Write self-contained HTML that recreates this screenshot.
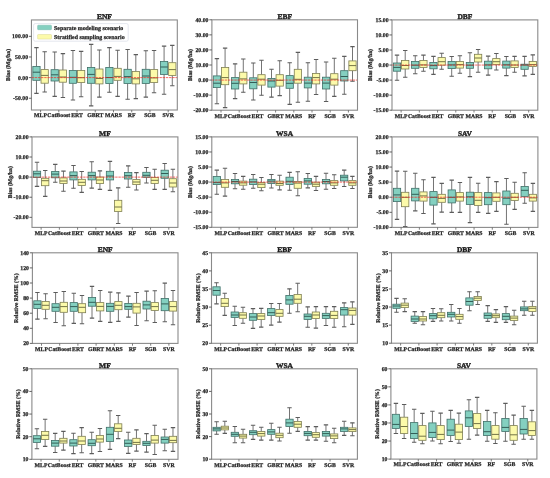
<!DOCTYPE html><html><head><meta charset="utf-8"><style>html,body{margin:0;padding:0;background:#fff;width:550px;height:478px;overflow:hidden}svg{display:block;filter:blur(0.3px)}text{text-rendering:geometricPrecision;font-family:"Liberation Serif","Times New Roman",serif;font-weight:bold;fill:#262626;stroke:#262626;stroke-width:0.25px}</style></head><body>
<svg width="550" height="478" viewBox="0 0 550 478">
<rect width="550" height="478" fill="#fff"/>
<path d="M36.46 47.60V66.40M36.46 80.30V93.40" stroke="#747474" stroke-width="1.0" fill="none"/><path d="M34.28 47.60H38.65M34.28 93.40H38.65" stroke="#5c5c5c" stroke-width="1.1" fill="none"/><rect x="32.82" y="66.40" width="7.29" height="13.90" fill="#84d0c0" stroke="#3f6f68" stroke-width="0.8"/><path d="M32.82 72.20H40.11" stroke="#335e57" stroke-width="1.0"/><path d="M44.67 51.70V69.60M44.67 83.20V92.00" stroke="#747474" stroke-width="1.0" fill="none"/><path d="M42.48 51.70H46.86M42.48 92.00H46.86" stroke="#5c5c5c" stroke-width="1.1" fill="none"/><rect x="41.02" y="69.60" width="7.29" height="13.60" fill="#fcfaaa" stroke="#7e7e52" stroke-width="0.8"/><path d="M41.02 75.40H48.31" stroke="#737346" stroke-width="1.0"/><path d="M54.69 52.00V69.70M54.69 81.00V96.40" stroke="#747474" stroke-width="1.0" fill="none"/><path d="M52.51 52.00H56.88M52.51 96.40H56.88" stroke="#5c5c5c" stroke-width="1.1" fill="none"/><rect x="51.05" y="69.70" width="7.29" height="11.30" fill="#84d0c0" stroke="#3f6f68" stroke-width="0.8"/><path d="M51.05 74.80H58.34" stroke="#335e57" stroke-width="1.0"/><path d="M62.90 53.60V70.00M62.90 82.20V97.50" stroke="#747474" stroke-width="1.0" fill="none"/><path d="M60.71 53.60H65.09M60.71 97.50H65.09" stroke="#5c5c5c" stroke-width="1.1" fill="none"/><rect x="59.25" y="70.00" width="7.29" height="12.20" fill="#fcfaaa" stroke="#7e7e52" stroke-width="0.8"/><path d="M59.25 77.00H66.55" stroke="#737346" stroke-width="1.0"/><path d="M72.93 50.50V70.50M72.93 83.30V100.00" stroke="#747474" stroke-width="1.0" fill="none"/><path d="M70.74 50.50H75.11M70.74 100.00H75.11" stroke="#5c5c5c" stroke-width="1.1" fill="none"/><rect x="69.28" y="70.50" width="7.29" height="12.80" fill="#84d0c0" stroke="#3f6f68" stroke-width="0.8"/><path d="M69.28 77.30H76.57" stroke="#335e57" stroke-width="1.0"/><path d="M81.13 51.40V70.50M81.13 82.50V96.80" stroke="#747474" stroke-width="1.0" fill="none"/><path d="M78.94 51.40H83.32M78.94 96.80H83.32" stroke="#5c5c5c" stroke-width="1.1" fill="none"/><rect x="77.48" y="70.50" width="7.29" height="12.00" fill="#fcfaaa" stroke="#7e7e52" stroke-width="0.8"/><path d="M77.48 77.70H84.78" stroke="#737346" stroke-width="1.0"/><path d="M91.16 44.40V67.40M91.16 83.30V105.90" stroke="#747474" stroke-width="1.0" fill="none"/><path d="M88.97 44.40H93.35M88.97 105.90H93.35" stroke="#5c5c5c" stroke-width="1.1" fill="none"/><rect x="87.51" y="67.40" width="7.29" height="15.90" fill="#84d0c0" stroke="#3f6f68" stroke-width="0.8"/><path d="M87.51 74.40H94.80" stroke="#335e57" stroke-width="1.0"/><path d="M99.36 50.00V69.00M99.36 83.90V97.10" stroke="#747474" stroke-width="1.0" fill="none"/><path d="M97.17 50.00H101.55M97.17 97.10H101.55" stroke="#5c5c5c" stroke-width="1.1" fill="none"/><rect x="95.72" y="69.00" width="7.29" height="14.90" fill="#fcfaaa" stroke="#7e7e52" stroke-width="0.8"/><path d="M95.72 78.50H103.01" stroke="#737346" stroke-width="1.0"/><path d="M109.39 47.60V67.40M109.39 83.50V92.30" stroke="#747474" stroke-width="1.0" fill="none"/><path d="M107.20 47.60H111.58M107.20 92.30H111.58" stroke="#5c5c5c" stroke-width="1.1" fill="none"/><rect x="105.74" y="67.40" width="7.29" height="16.10" fill="#84d0c0" stroke="#3f6f68" stroke-width="0.8"/><path d="M105.74 77.50H113.03" stroke="#335e57" stroke-width="1.0"/><path d="M117.59 50.20V68.30M117.59 80.30V96.40" stroke="#747474" stroke-width="1.0" fill="none"/><path d="M115.40 50.20H119.78M115.40 96.40H119.78" stroke="#5c5c5c" stroke-width="1.1" fill="none"/><rect x="113.95" y="68.30" width="7.29" height="12.00" fill="#fcfaaa" stroke="#7e7e52" stroke-width="0.8"/><path d="M113.95 76.40H121.24" stroke="#737346" stroke-width="1.0"/><path d="M127.62 49.50V69.30M127.62 83.50V99.30" stroke="#747474" stroke-width="1.0" fill="none"/><path d="M125.43 49.50H129.81M125.43 99.30H129.81" stroke="#5c5c5c" stroke-width="1.1" fill="none"/><rect x="123.97" y="69.30" width="7.29" height="14.20" fill="#84d0c0" stroke="#3f6f68" stroke-width="0.8"/><path d="M123.97 76.60H131.27" stroke="#335e57" stroke-width="1.0"/><path d="M135.82 54.60V71.50M135.82 83.90V98.60" stroke="#747474" stroke-width="1.0" fill="none"/><path d="M133.64 54.60H138.01M133.64 98.60H138.01" stroke="#5c5c5c" stroke-width="1.1" fill="none"/><rect x="132.18" y="71.50" width="7.29" height="12.40" fill="#fcfaaa" stroke="#7e7e52" stroke-width="0.8"/><path d="M132.18 78.80H139.47" stroke="#737346" stroke-width="1.0"/><path d="M145.85 50.70V69.30M145.85 83.50V97.10" stroke="#747474" stroke-width="1.0" fill="none"/><path d="M143.66 50.70H148.04M143.66 97.10H148.04" stroke="#5c5c5c" stroke-width="1.1" fill="none"/><rect x="142.20" y="69.30" width="7.29" height="14.20" fill="#84d0c0" stroke="#3f6f68" stroke-width="0.8"/><path d="M142.20 76.00H149.50" stroke="#335e57" stroke-width="1.0"/><path d="M154.06 50.50V69.60M154.06 82.50V92.70" stroke="#747474" stroke-width="1.0" fill="none"/><path d="M151.87 50.50H156.24M151.87 92.70H156.24" stroke="#5c5c5c" stroke-width="1.1" fill="none"/><rect x="150.41" y="69.60" width="7.29" height="12.90" fill="#fcfaaa" stroke="#7e7e52" stroke-width="0.8"/><path d="M150.41 77.90H157.70" stroke="#737346" stroke-width="1.0"/><path d="M164.08 46.10V61.50M164.08 74.40V94.20" stroke="#747474" stroke-width="1.0" fill="none"/><path d="M161.89 46.10H166.27M161.89 94.20H166.27" stroke="#5c5c5c" stroke-width="1.1" fill="none"/><rect x="160.44" y="61.50" width="7.29" height="12.90" fill="#84d0c0" stroke="#3f6f68" stroke-width="0.8"/><path d="M160.44 67.00H167.73" stroke="#335e57" stroke-width="1.0"/><path d="M172.29 45.40V62.70M172.29 75.40V85.70" stroke="#747474" stroke-width="1.0" fill="none"/><path d="M170.10 45.40H174.47M170.10 85.70H174.47" stroke="#5c5c5c" stroke-width="1.1" fill="none"/><rect x="168.64" y="62.70" width="7.29" height="12.70" fill="#fcfaaa" stroke="#7e7e52" stroke-width="0.8"/><path d="M168.64 69.60H175.93" stroke="#737346" stroke-width="1.0"/>
<path d="M31.45 77.60H177.30" stroke="#f22a22" stroke-width="0.7" stroke-dasharray="2.4 0.8"/>
<rect x="31.45" y="19.95" width="145.85" height="90.05" fill="none" stroke="#8a8a8a" stroke-width="1.1"/>
<path d="M28.85 36.33H31.45" stroke="#555" stroke-width="0.9"/>
<text x="28.05" y="38.28" font-size="5.8" text-anchor="end">100.00</text>
<path d="M28.85 56.97H31.45" stroke="#555" stroke-width="0.9"/>
<text x="28.05" y="58.92" font-size="5.8" text-anchor="end">50.00</text>
<path d="M28.85 77.60H31.45" stroke="#555" stroke-width="0.9"/>
<text x="28.05" y="79.55" font-size="5.8" text-anchor="end">0.00</text>
<path d="M28.85 98.24H31.45" stroke="#555" stroke-width="0.9"/>
<text x="28.05" y="100.19" font-size="5.8" text-anchor="end">-50.00</text>
<path d="M40.57 110.0V112.30" stroke="#666" stroke-width="0.85"/>
<text x="40.57" y="117.30" font-size="5.8" text-anchor="middle">MLP</text>
<path d="M58.80 110.0V112.30" stroke="#666" stroke-width="0.85"/>
<text x="58.80" y="117.30" font-size="5.8" text-anchor="middle">CatBoost</text>
<path d="M77.03 110.0V112.30" stroke="#666" stroke-width="0.85"/>
<text x="77.03" y="117.30" font-size="5.8" text-anchor="middle">ERT</text>
<path d="M95.26 110.0V112.30" stroke="#666" stroke-width="0.85"/>
<text x="95.26" y="117.30" font-size="5.8" text-anchor="middle">GBRT</text>
<path d="M113.49 110.0V112.30" stroke="#666" stroke-width="0.85"/>
<text x="113.49" y="117.30" font-size="5.8" text-anchor="middle">MARS</text>
<path d="M131.72 110.0V112.30" stroke="#666" stroke-width="0.85"/>
<text x="131.72" y="117.30" font-size="5.8" text-anchor="middle">RF</text>
<path d="M149.95 110.0V112.30" stroke="#666" stroke-width="0.85"/>
<text x="149.95" y="117.30" font-size="5.8" text-anchor="middle">SGB</text>
<path d="M168.18 110.0V112.30" stroke="#666" stroke-width="0.85"/>
<text x="168.18" y="117.30" font-size="5.8" text-anchor="middle">SVR</text>
<text transform="translate(104.38 18.85) scale(1 0.96)" font-size="7.5" style="stroke-width:0.38px;fill:#1c1c1c;stroke:#1c1c1c" text-anchor="middle">ENF</text>
<text transform="translate(10.30 64.97) rotate(-90)" font-size="5.8" text-anchor="middle">Bias (Mg/ha)</text>
<path d="M216.91 58.60V75.90M216.91 87.60V103.70" stroke="#747474" stroke-width="1.0" fill="none"/><path d="M214.72 58.60H219.09M214.72 103.70H219.09" stroke="#5c5c5c" stroke-width="1.1" fill="none"/><rect x="213.27" y="75.90" width="7.28" height="11.70" fill="#84d0c0" stroke="#3f6f68" stroke-width="0.8"/><path d="M213.27 83.20H220.54" stroke="#335e57" stroke-width="1.0"/><path d="M225.09 48.10V67.40M225.09 84.70V107.60" stroke="#747474" stroke-width="1.0" fill="none"/><path d="M222.91 48.10H227.28M222.91 107.60H227.28" stroke="#5c5c5c" stroke-width="1.1" fill="none"/><rect x="221.46" y="67.40" width="7.28" height="17.30" fill="#fcfaaa" stroke="#7e7e52" stroke-width="0.8"/><path d="M221.46 77.60H228.73" stroke="#737346" stroke-width="1.0"/><path d="M235.10 63.90V77.60M235.10 89.00V98.60" stroke="#747474" stroke-width="1.0" fill="none"/><path d="M232.92 63.90H237.29M232.92 98.60H237.29" stroke="#5c5c5c" stroke-width="1.1" fill="none"/><rect x="231.47" y="77.60" width="7.28" height="11.40" fill="#84d0c0" stroke="#3f6f68" stroke-width="0.8"/><path d="M231.47 83.30H238.74" stroke="#335e57" stroke-width="1.0"/><path d="M243.29 59.00V72.20M243.29 83.90V92.30" stroke="#747474" stroke-width="1.0" fill="none"/><path d="M241.11 59.00H245.48M241.11 92.30H245.48" stroke="#5c5c5c" stroke-width="1.1" fill="none"/><rect x="239.66" y="72.20" width="7.28" height="11.70" fill="#fcfaaa" stroke="#7e7e52" stroke-width="0.8"/><path d="M239.66 78.90H246.93" stroke="#737346" stroke-width="1.0"/><path d="M253.30 63.00V77.80M253.30 88.80V100.00" stroke="#747474" stroke-width="1.0" fill="none"/><path d="M251.12 63.00H255.49M251.12 100.00H255.49" stroke="#5c5c5c" stroke-width="1.1" fill="none"/><rect x="249.66" y="77.80" width="7.28" height="11.00" fill="#84d0c0" stroke="#3f6f68" stroke-width="0.8"/><path d="M249.66 82.50H256.94" stroke="#335e57" stroke-width="1.0"/><path d="M261.50 60.20V74.70M261.50 85.10V95.30" stroke="#747474" stroke-width="1.0" fill="none"/><path d="M259.31 60.20H263.68M259.31 95.30H263.68" stroke="#5c5c5c" stroke-width="1.1" fill="none"/><rect x="257.86" y="74.70" width="7.28" height="10.40" fill="#fcfaaa" stroke="#7e7e52" stroke-width="0.8"/><path d="M257.86 79.20H265.13" stroke="#737346" stroke-width="1.0"/><path d="M271.50 69.30V78.40M271.50 87.10V97.10" stroke="#747474" stroke-width="1.0" fill="none"/><path d="M269.32 69.30H273.69M269.32 97.10H273.69" stroke="#5c5c5c" stroke-width="1.1" fill="none"/><rect x="267.87" y="78.40" width="7.28" height="8.70" fill="#84d0c0" stroke="#3f6f68" stroke-width="0.8"/><path d="M267.87 81.00H275.14" stroke="#335e57" stroke-width="1.0"/><path d="M279.70 60.80V74.70M279.70 86.10V95.60" stroke="#747474" stroke-width="1.0" fill="none"/><path d="M277.51 60.80H281.88M277.51 95.60H281.88" stroke="#5c5c5c" stroke-width="1.1" fill="none"/><rect x="276.06" y="74.70" width="7.28" height="11.40" fill="#fcfaaa" stroke="#7e7e52" stroke-width="0.8"/><path d="M276.06 80.30H283.34" stroke="#737346" stroke-width="1.0"/><path d="M289.70 62.70V75.60M289.70 88.30V104.40" stroke="#747474" stroke-width="1.0" fill="none"/><path d="M287.52 62.70H291.89M287.52 104.40H291.89" stroke="#5c5c5c" stroke-width="1.1" fill="none"/><rect x="286.06" y="75.60" width="7.28" height="12.70" fill="#84d0c0" stroke="#3f6f68" stroke-width="0.8"/><path d="M286.06 83.30H293.34" stroke="#335e57" stroke-width="1.0"/><path d="M297.90 52.40V69.30M297.90 83.20V102.20" stroke="#747474" stroke-width="1.0" fill="none"/><path d="M295.71 52.40H300.08M295.71 102.20H300.08" stroke="#5c5c5c" stroke-width="1.1" fill="none"/><rect x="294.26" y="69.30" width="7.28" height="13.90" fill="#fcfaaa" stroke="#7e7e52" stroke-width="0.8"/><path d="M294.26 79.30H301.54" stroke="#737346" stroke-width="1.0"/><path d="M307.90 62.70V77.20M307.90 87.90V101.20" stroke="#747474" stroke-width="1.0" fill="none"/><path d="M305.72 62.70H310.09M305.72 101.20H310.09" stroke="#5c5c5c" stroke-width="1.1" fill="none"/><rect x="304.26" y="77.20" width="7.28" height="10.70" fill="#84d0c0" stroke="#3f6f68" stroke-width="0.8"/><path d="M304.26 83.10H311.54" stroke="#335e57" stroke-width="1.0"/><path d="M316.10 59.50V73.40M316.10 83.90V94.50" stroke="#747474" stroke-width="1.0" fill="none"/><path d="M313.91 59.50H318.28M313.91 94.50H318.28" stroke="#5c5c5c" stroke-width="1.1" fill="none"/><rect x="312.46" y="73.40" width="7.28" height="10.50" fill="#fcfaaa" stroke="#7e7e52" stroke-width="0.8"/><path d="M312.46 77.60H319.74" stroke="#737346" stroke-width="1.0"/><path d="M326.10 62.00V77.20M326.10 89.00V101.50" stroke="#747474" stroke-width="1.0" fill="none"/><path d="M323.92 62.00H328.29M323.92 101.50H328.29" stroke="#5c5c5c" stroke-width="1.1" fill="none"/><rect x="322.46" y="77.20" width="7.28" height="11.80" fill="#84d0c0" stroke="#3f6f68" stroke-width="0.8"/><path d="M322.46 83.10H329.74" stroke="#335e57" stroke-width="1.0"/><path d="M334.30 58.30V73.70M334.30 85.10V96.40" stroke="#747474" stroke-width="1.0" fill="none"/><path d="M332.11 58.30H336.48M332.11 96.40H336.48" stroke="#5c5c5c" stroke-width="1.1" fill="none"/><rect x="330.66" y="73.70" width="7.28" height="11.40" fill="#fcfaaa" stroke="#7e7e52" stroke-width="0.8"/><path d="M330.66 79.20H337.94" stroke="#737346" stroke-width="1.0"/><path d="M344.30 56.40V70.70M344.30 81.00V94.20" stroke="#747474" stroke-width="1.0" fill="none"/><path d="M342.12 56.40H346.49M342.12 94.20H346.49" stroke="#5c5c5c" stroke-width="1.1" fill="none"/><rect x="340.66" y="70.70" width="7.28" height="10.30" fill="#84d0c0" stroke="#3f6f68" stroke-width="0.8"/><path d="M340.66 76.50H347.94" stroke="#335e57" stroke-width="1.0"/><path d="M352.50 46.60V60.90M352.50 70.70V81.30" stroke="#747474" stroke-width="1.0" fill="none"/><path d="M350.31 46.60H354.68M350.31 81.30H354.68" stroke="#5c5c5c" stroke-width="1.1" fill="none"/><rect x="348.86" y="60.90" width="7.28" height="9.80" fill="#fcfaaa" stroke="#7e7e52" stroke-width="0.8"/><path d="M348.86 65.60H356.13" stroke="#737346" stroke-width="1.0"/>
<path d="M211.90 80.07H357.50" stroke="#f22a22" stroke-width="0.7" stroke-dasharray="2.4 0.8"/>
<rect x="211.9" y="19.8" width="145.60" height="90.40" fill="none" stroke="#8a8a8a" stroke-width="1.1"/>
<path d="M209.30 19.80H211.9" stroke="#555" stroke-width="0.9"/>
<text x="208.50" y="21.75" font-size="5.8" text-anchor="end">40.00</text>
<path d="M209.30 34.87H211.9" stroke="#555" stroke-width="0.9"/>
<text x="208.50" y="36.82" font-size="5.8" text-anchor="end">30.00</text>
<path d="M209.30 49.93H211.9" stroke="#555" stroke-width="0.9"/>
<text x="208.50" y="51.88" font-size="5.8" text-anchor="end">20.00</text>
<path d="M209.30 65.00H211.9" stroke="#555" stroke-width="0.9"/>
<text x="208.50" y="66.95" font-size="5.8" text-anchor="end">10.00</text>
<path d="M209.30 80.07H211.9" stroke="#555" stroke-width="0.9"/>
<text x="208.50" y="82.02" font-size="5.8" text-anchor="end">0.00</text>
<path d="M209.30 95.13H211.9" stroke="#555" stroke-width="0.9"/>
<text x="208.50" y="97.08" font-size="5.8" text-anchor="end">-10.00</text>
<path d="M209.30 110.20H211.9" stroke="#555" stroke-width="0.9"/>
<text x="208.50" y="112.15" font-size="5.8" text-anchor="end">-20.00</text>
<path d="M221.00 110.2V112.50" stroke="#666" stroke-width="0.85"/>
<text x="221.00" y="117.50" font-size="5.8" text-anchor="middle">MLP</text>
<path d="M239.20 110.2V112.50" stroke="#666" stroke-width="0.85"/>
<text x="239.20" y="117.50" font-size="5.8" text-anchor="middle">CatBoost</text>
<path d="M257.40 110.2V112.50" stroke="#666" stroke-width="0.85"/>
<text x="257.40" y="117.50" font-size="5.8" text-anchor="middle">ERT</text>
<path d="M275.60 110.2V112.50" stroke="#666" stroke-width="0.85"/>
<text x="275.60" y="117.50" font-size="5.8" text-anchor="middle">GBRT</text>
<path d="M293.80 110.2V112.50" stroke="#666" stroke-width="0.85"/>
<text x="293.80" y="117.50" font-size="5.8" text-anchor="middle">MARS</text>
<path d="M312.00 110.2V112.50" stroke="#666" stroke-width="0.85"/>
<text x="312.00" y="117.50" font-size="5.8" text-anchor="middle">RF</text>
<path d="M330.20 110.2V112.50" stroke="#666" stroke-width="0.85"/>
<text x="330.20" y="117.50" font-size="5.8" text-anchor="middle">SGB</text>
<path d="M348.40 110.2V112.50" stroke="#666" stroke-width="0.85"/>
<text x="348.40" y="117.50" font-size="5.8" text-anchor="middle">SVR</text>
<text transform="translate(284.70 18.70) scale(1 0.96)" font-size="7.5" style="stroke-width:0.38px;fill:#1c1c1c;stroke:#1c1c1c" text-anchor="middle">EBF</text>
<text transform="translate(191.72 65.00) rotate(-90)" font-size="5.8" text-anchor="middle">Bias (Mg/ha)</text>
<path d="M397.01 55.10V63.00M397.01 71.20V80.30" stroke="#747474" stroke-width="1.0" fill="none"/><path d="M394.82 55.10H399.20M394.82 80.30H399.20" stroke="#5c5c5c" stroke-width="1.1" fill="none"/><rect x="393.37" y="63.00" width="7.29" height="8.20" fill="#84d0c0" stroke="#3f6f68" stroke-width="0.8"/><path d="M393.37 67.40H400.66" stroke="#335e57" stroke-width="1.0"/><path d="M405.21 50.50V60.50M405.21 69.00V77.30" stroke="#747474" stroke-width="1.0" fill="none"/><path d="M403.03 50.50H407.40M403.03 77.30H407.40" stroke="#5c5c5c" stroke-width="1.1" fill="none"/><rect x="401.57" y="60.50" width="7.29" height="8.50" fill="#fcfaaa" stroke="#7e7e52" stroke-width="0.8"/><path d="M401.57 65.50H408.86" stroke="#737346" stroke-width="1.0"/><path d="M415.24 55.70V61.50M415.24 68.30V73.70" stroke="#747474" stroke-width="1.0" fill="none"/><path d="M413.05 55.70H417.42M413.05 73.70H417.42" stroke="#5c5c5c" stroke-width="1.1" fill="none"/><rect x="411.59" y="61.50" width="7.29" height="6.80" fill="#84d0c0" stroke="#3f6f68" stroke-width="0.8"/><path d="M411.59 65.20H418.88" stroke="#335e57" stroke-width="1.0"/><path d="M423.44 55.10V60.50M423.44 67.40V71.20" stroke="#747474" stroke-width="1.0" fill="none"/><path d="M421.25 55.10H425.63M421.25 71.20H425.63" stroke="#5c5c5c" stroke-width="1.1" fill="none"/><rect x="419.79" y="60.50" width="7.29" height="6.90" fill="#fcfaaa" stroke="#7e7e52" stroke-width="0.8"/><path d="M419.79 64.90H427.08" stroke="#737346" stroke-width="1.0"/><path d="M433.46 56.40V62.40M433.46 68.80V74.40" stroke="#747474" stroke-width="1.0" fill="none"/><path d="M431.27 56.40H435.65M431.27 74.40H435.65" stroke="#5c5c5c" stroke-width="1.1" fill="none"/><rect x="429.82" y="62.40" width="7.29" height="6.40" fill="#84d0c0" stroke="#3f6f68" stroke-width="0.8"/><path d="M429.82 65.60H437.11" stroke="#335e57" stroke-width="1.0"/><path d="M441.66 53.20V57.60M441.66 65.20V69.30" stroke="#747474" stroke-width="1.0" fill="none"/><path d="M439.48 53.20H443.85M439.48 69.30H443.85" stroke="#5c5c5c" stroke-width="1.1" fill="none"/><rect x="438.02" y="57.60" width="7.29" height="7.60" fill="#fcfaaa" stroke="#7e7e52" stroke-width="0.8"/><path d="M438.02 61.70H445.31" stroke="#737346" stroke-width="1.0"/><path d="M451.69 56.50V61.50M451.69 68.60V76.30" stroke="#747474" stroke-width="1.0" fill="none"/><path d="M449.50 56.50H453.87M449.50 76.30H453.87" stroke="#5c5c5c" stroke-width="1.1" fill="none"/><rect x="448.04" y="61.50" width="7.29" height="7.10" fill="#84d0c0" stroke="#3f6f68" stroke-width="0.8"/><path d="M448.04 64.90H455.33" stroke="#335e57" stroke-width="1.0"/><path d="M459.89 55.70V61.50M459.89 68.10V73.20" stroke="#747474" stroke-width="1.0" fill="none"/><path d="M457.70 55.70H462.08M457.70 73.20H462.08" stroke="#5c5c5c" stroke-width="1.1" fill="none"/><rect x="456.24" y="61.50" width="7.29" height="6.60" fill="#fcfaaa" stroke="#7e7e52" stroke-width="0.8"/><path d="M456.24 64.60H463.53" stroke="#737346" stroke-width="1.0"/><path d="M469.91 52.70V62.40M469.91 68.30V76.60" stroke="#747474" stroke-width="1.0" fill="none"/><path d="M467.72 52.70H472.10M467.72 76.60H472.10" stroke="#5c5c5c" stroke-width="1.1" fill="none"/><rect x="466.27" y="62.40" width="7.29" height="5.90" fill="#84d0c0" stroke="#3f6f68" stroke-width="0.8"/><path d="M466.27 65.20H473.56" stroke="#335e57" stroke-width="1.0"/><path d="M478.11 49.50V54.30M478.11 62.00V72.20" stroke="#747474" stroke-width="1.0" fill="none"/><path d="M475.93 49.50H480.30M475.93 72.20H480.30" stroke="#5c5c5c" stroke-width="1.1" fill="none"/><rect x="474.47" y="54.30" width="7.29" height="7.70" fill="#fcfaaa" stroke="#7e7e52" stroke-width="0.8"/><path d="M474.47 58.00H481.76" stroke="#737346" stroke-width="1.0"/><path d="M488.14 56.10V61.20M488.14 68.80V75.10" stroke="#747474" stroke-width="1.0" fill="none"/><path d="M485.95 56.10H490.32M485.95 75.10H490.32" stroke="#5c5c5c" stroke-width="1.1" fill="none"/><rect x="484.49" y="61.20" width="7.29" height="7.60" fill="#84d0c0" stroke="#3f6f68" stroke-width="0.8"/><path d="M484.49 64.90H491.78" stroke="#335e57" stroke-width="1.0"/><path d="M496.34 53.50V58.60M496.34 64.60V70.00" stroke="#747474" stroke-width="1.0" fill="none"/><path d="M494.15 53.50H498.53M494.15 70.00H498.53" stroke="#5c5c5c" stroke-width="1.1" fill="none"/><rect x="492.69" y="58.60" width="7.29" height="6.00" fill="#fcfaaa" stroke="#7e7e52" stroke-width="0.8"/><path d="M492.69 61.70H499.98" stroke="#737346" stroke-width="1.0"/><path d="M506.36 56.50V61.10M506.36 68.10V75.60" stroke="#747474" stroke-width="1.0" fill="none"/><path d="M504.17 56.50H508.55M504.17 75.60H508.55" stroke="#5c5c5c" stroke-width="1.1" fill="none"/><rect x="502.72" y="61.10" width="7.29" height="7.00" fill="#84d0c0" stroke="#3f6f68" stroke-width="0.8"/><path d="M502.72 64.80H510.01" stroke="#335e57" stroke-width="1.0"/><path d="M514.56 56.40V60.90M514.56 67.40V72.20" stroke="#747474" stroke-width="1.0" fill="none"/><path d="M512.38 56.40H516.75M512.38 72.20H516.75" stroke="#5c5c5c" stroke-width="1.1" fill="none"/><rect x="510.92" y="60.90" width="7.29" height="6.50" fill="#fcfaaa" stroke="#7e7e52" stroke-width="0.8"/><path d="M510.92 65.00H518.21" stroke="#737346" stroke-width="1.0"/><path d="M524.59 56.40V64.20M524.59 69.30V75.90" stroke="#747474" stroke-width="1.0" fill="none"/><path d="M522.40 56.40H526.77M522.40 75.90H526.77" stroke="#5c5c5c" stroke-width="1.1" fill="none"/><rect x="520.94" y="64.20" width="7.29" height="5.10" fill="#84d0c0" stroke="#3f6f68" stroke-width="0.8"/><path d="M520.94 65.00H528.23" stroke="#335e57" stroke-width="1.0"/><path d="M532.79 54.90V61.50M532.79 66.40V74.40" stroke="#747474" stroke-width="1.0" fill="none"/><path d="M530.60 54.90H534.98M530.60 74.40H534.98" stroke="#5c5c5c" stroke-width="1.1" fill="none"/><rect x="529.14" y="61.50" width="7.29" height="4.90" fill="#fcfaaa" stroke="#7e7e52" stroke-width="0.8"/><path d="M529.14 64.60H536.43" stroke="#737346" stroke-width="1.0"/>
<path d="M392.00 65.05H537.80" stroke="#f22a22" stroke-width="0.7" stroke-dasharray="2.4 0.8"/>
<rect x="392.0" y="19.9" width="145.80" height="90.30" fill="none" stroke="#8a8a8a" stroke-width="1.1"/>
<path d="M389.40 19.90H392.0" stroke="#555" stroke-width="0.9"/>
<text x="388.60" y="21.85" font-size="5.8" text-anchor="end">15.00</text>
<path d="M389.40 34.95H392.0" stroke="#555" stroke-width="0.9"/>
<text x="388.60" y="36.90" font-size="5.8" text-anchor="end">10.00</text>
<path d="M389.40 50.00H392.0" stroke="#555" stroke-width="0.9"/>
<text x="388.60" y="51.95" font-size="5.8" text-anchor="end">5.00</text>
<path d="M389.40 65.05H392.0" stroke="#555" stroke-width="0.9"/>
<text x="388.60" y="67.00" font-size="5.8" text-anchor="end">0.00</text>
<path d="M389.40 80.10H392.0" stroke="#555" stroke-width="0.9"/>
<text x="388.60" y="82.05" font-size="5.8" text-anchor="end">-5.00</text>
<path d="M389.40 95.15H392.0" stroke="#555" stroke-width="0.9"/>
<text x="388.60" y="97.10" font-size="5.8" text-anchor="end">-10.00</text>
<path d="M389.40 110.20H392.0" stroke="#555" stroke-width="0.9"/>
<text x="388.60" y="112.15" font-size="5.8" text-anchor="end">-15.00</text>
<path d="M401.11 110.2V112.50" stroke="#666" stroke-width="0.85"/>
<text x="401.11" y="117.50" font-size="5.8" text-anchor="middle">MLP</text>
<path d="M419.34 110.2V112.50" stroke="#666" stroke-width="0.85"/>
<text x="419.34" y="117.50" font-size="5.8" text-anchor="middle">CatBoost</text>
<path d="M437.56 110.2V112.50" stroke="#666" stroke-width="0.85"/>
<text x="437.56" y="117.50" font-size="5.8" text-anchor="middle">ERT</text>
<path d="M455.79 110.2V112.50" stroke="#666" stroke-width="0.85"/>
<text x="455.79" y="117.50" font-size="5.8" text-anchor="middle">GBRT</text>
<path d="M474.01 110.2V112.50" stroke="#666" stroke-width="0.85"/>
<text x="474.01" y="117.50" font-size="5.8" text-anchor="middle">MARS</text>
<path d="M492.24 110.2V112.50" stroke="#666" stroke-width="0.85"/>
<text x="492.24" y="117.50" font-size="5.8" text-anchor="middle">RF</text>
<path d="M510.46 110.2V112.50" stroke="#666" stroke-width="0.85"/>
<text x="510.46" y="117.50" font-size="5.8" text-anchor="middle">SGB</text>
<path d="M528.69 110.2V112.50" stroke="#666" stroke-width="0.85"/>
<text x="528.69" y="117.50" font-size="5.8" text-anchor="middle">SVR</text>
<text transform="translate(464.90 18.80) scale(1 0.96)" font-size="7.5" style="stroke-width:0.38px;fill:#1c1c1c;stroke:#1c1c1c" text-anchor="middle">DBF</text>
<text transform="translate(371.82 65.05) rotate(-90)" font-size="5.8" text-anchor="middle">Bias (Mg/ha)</text>
<path d="M37.02 162.30V171.20M37.02 177.60V186.40" stroke="#747474" stroke-width="1.0" fill="none"/><path d="M34.83 162.30H39.20M34.83 186.40H39.20" stroke="#5c5c5c" stroke-width="1.1" fill="none"/><rect x="33.37" y="171.20" width="7.30" height="6.40" fill="#84d0c0" stroke="#3f6f68" stroke-width="0.8"/><path d="M33.37 173.80H40.66" stroke="#335e57" stroke-width="1.0"/><path d="M45.22 170.50V178.30M45.22 185.70V196.40" stroke="#747474" stroke-width="1.0" fill="none"/><path d="M43.03 170.50H47.41M43.03 196.40H47.41" stroke="#5c5c5c" stroke-width="1.1" fill="none"/><rect x="41.57" y="178.30" width="7.30" height="7.40" fill="#fcfaaa" stroke="#7e7e52" stroke-width="0.8"/><path d="M41.57 180.70H48.87" stroke="#737346" stroke-width="1.0"/><path d="M55.25 164.40V171.50M55.25 177.80V182.30" stroke="#747474" stroke-width="1.0" fill="none"/><path d="M53.06 164.40H57.44M53.06 182.30H57.44" stroke="#5c5c5c" stroke-width="1.1" fill="none"/><rect x="51.61" y="171.50" width="7.30" height="6.30" fill="#84d0c0" stroke="#3f6f68" stroke-width="0.8"/><path d="M51.61 174.10H58.90" stroke="#335e57" stroke-width="1.0"/><path d="M63.46 171.10V177.90M63.46 183.40V191.30" stroke="#747474" stroke-width="1.0" fill="none"/><path d="M61.27 171.10H65.65M61.27 191.30H65.65" stroke="#5c5c5c" stroke-width="1.1" fill="none"/><rect x="59.81" y="177.90" width="7.30" height="5.50" fill="#fcfaaa" stroke="#7e7e52" stroke-width="0.8"/><path d="M59.81 181.00H67.11" stroke="#737346" stroke-width="1.0"/><path d="M73.49 165.50V171.90M73.49 179.90V188.30" stroke="#747474" stroke-width="1.0" fill="none"/><path d="M71.30 165.50H75.68M71.30 188.30H75.68" stroke="#5c5c5c" stroke-width="1.1" fill="none"/><rect x="69.84" y="171.90" width="7.30" height="8.00" fill="#84d0c0" stroke="#3f6f68" stroke-width="0.8"/><path d="M69.84 175.60H77.14" stroke="#335e57" stroke-width="1.0"/><path d="M81.70 171.50V179.30M81.70 185.40V192.40" stroke="#747474" stroke-width="1.0" fill="none"/><path d="M79.51 171.50H83.89M79.51 192.40H83.89" stroke="#5c5c5c" stroke-width="1.1" fill="none"/><rect x="78.05" y="179.30" width="7.30" height="6.10" fill="#fcfaaa" stroke="#7e7e52" stroke-width="0.8"/><path d="M78.05 182.30H85.34" stroke="#737346" stroke-width="1.0"/><path d="M91.73 161.80V172.20M91.73 179.90V188.10" stroke="#747474" stroke-width="1.0" fill="none"/><path d="M89.54 161.80H93.92M89.54 188.10H93.92" stroke="#5c5c5c" stroke-width="1.1" fill="none"/><rect x="88.08" y="172.20" width="7.30" height="7.70" fill="#84d0c0" stroke="#3f6f68" stroke-width="0.8"/><path d="M88.08 175.60H95.38" stroke="#335e57" stroke-width="1.0"/><path d="M99.93 170.90V177.00M99.93 183.60V189.40" stroke="#747474" stroke-width="1.0" fill="none"/><path d="M97.75 170.90H102.12M97.75 189.40H102.12" stroke="#5c5c5c" stroke-width="1.1" fill="none"/><rect x="96.29" y="177.00" width="7.30" height="6.60" fill="#fcfaaa" stroke="#7e7e52" stroke-width="0.8"/><path d="M96.29 180.00H103.58" stroke="#737346" stroke-width="1.0"/><path d="M109.97 161.40V171.30M109.97 179.90V190.40" stroke="#747474" stroke-width="1.0" fill="none"/><path d="M107.78 161.40H112.15M107.78 190.40H112.15" stroke="#5c5c5c" stroke-width="1.1" fill="none"/><rect x="106.32" y="171.30" width="7.30" height="8.60" fill="#84d0c0" stroke="#3f6f68" stroke-width="0.8"/><path d="M106.32 176.00H113.61" stroke="#335e57" stroke-width="1.0"/><path d="M118.17 187.90V200.30M118.17 211.50V223.50" stroke="#747474" stroke-width="1.0" fill="none"/><path d="M115.98 187.90H120.36M115.98 223.50H120.36" stroke="#5c5c5c" stroke-width="1.1" fill="none"/><rect x="114.52" y="200.30" width="7.30" height="11.20" fill="#fcfaaa" stroke="#7e7e52" stroke-width="0.8"/><path d="M114.52 207.00H121.82" stroke="#737346" stroke-width="1.0"/><path d="M128.20 165.90V172.40M128.20 179.00V187.30" stroke="#747474" stroke-width="1.0" fill="none"/><path d="M126.01 165.90H130.39M126.01 187.30H130.39" stroke="#5c5c5c" stroke-width="1.1" fill="none"/><rect x="124.56" y="172.40" width="7.30" height="6.60" fill="#84d0c0" stroke="#3f6f68" stroke-width="0.8"/><path d="M124.56 175.70H131.85" stroke="#335e57" stroke-width="1.0"/><path d="M136.41 172.60V179.60M136.41 184.60V190.00" stroke="#747474" stroke-width="1.0" fill="none"/><path d="M134.22 172.60H138.60M134.22 190.00H138.60" stroke="#5c5c5c" stroke-width="1.1" fill="none"/><rect x="132.76" y="179.60" width="7.30" height="5.00" fill="#fcfaaa" stroke="#7e7e52" stroke-width="0.8"/><path d="M132.76 182.00H140.06" stroke="#737346" stroke-width="1.0"/><path d="M146.44 167.50V172.30M146.44 177.30V183.00" stroke="#747474" stroke-width="1.0" fill="none"/><path d="M144.25 167.50H148.63M144.25 183.00H148.63" stroke="#5c5c5c" stroke-width="1.1" fill="none"/><rect x="142.79" y="172.30" width="7.30" height="5.00" fill="#84d0c0" stroke="#3f6f68" stroke-width="0.8"/><path d="M142.79 175.30H150.09" stroke="#335e57" stroke-width="1.0"/><path d="M154.65 169.20V177.40M154.65 183.40V189.40" stroke="#747474" stroke-width="1.0" fill="none"/><path d="M152.46 169.20H156.84M152.46 189.40H156.84" stroke="#5c5c5c" stroke-width="1.1" fill="none"/><rect x="151.00" y="177.40" width="7.30" height="6.00" fill="#fcfaaa" stroke="#7e7e52" stroke-width="0.8"/><path d="M151.00 180.30H158.29" stroke="#737346" stroke-width="1.0"/><path d="M164.68 163.50V170.20M164.68 178.30V189.40" stroke="#747474" stroke-width="1.0" fill="none"/><path d="M162.49 163.50H166.87M162.49 189.40H166.87" stroke="#5c5c5c" stroke-width="1.1" fill="none"/><rect x="161.03" y="170.20" width="7.30" height="8.10" fill="#84d0c0" stroke="#3f6f68" stroke-width="0.8"/><path d="M161.03 173.50H168.33" stroke="#335e57" stroke-width="1.0"/><path d="M172.88 169.20V178.70M172.88 187.00V191.70" stroke="#747474" stroke-width="1.0" fill="none"/><path d="M170.70 169.20H175.07M170.70 191.70H175.07" stroke="#5c5c5c" stroke-width="1.1" fill="none"/><rect x="169.24" y="178.70" width="7.30" height="8.30" fill="#fcfaaa" stroke="#7e7e52" stroke-width="0.8"/><path d="M169.24 183.00H176.53" stroke="#737346" stroke-width="1.0"/>
<path d="M32.00 177.12H177.90" stroke="#f22a22" stroke-width="0.7" stroke-dasharray="2.4 0.8"/>
<rect x="32.0" y="136.9" width="145.90" height="90.50" fill="none" stroke="#8a8a8a" stroke-width="1.1"/>
<path d="M29.40 136.90H32.0" stroke="#555" stroke-width="0.9"/>
<text x="28.60" y="138.85" font-size="5.8" text-anchor="end">20.00</text>
<path d="M29.40 157.01H32.0" stroke="#555" stroke-width="0.9"/>
<text x="28.60" y="158.96" font-size="5.8" text-anchor="end">10.00</text>
<path d="M29.40 177.12H32.0" stroke="#555" stroke-width="0.9"/>
<text x="28.60" y="179.07" font-size="5.8" text-anchor="end">0.00</text>
<path d="M29.40 197.23H32.0" stroke="#555" stroke-width="0.9"/>
<text x="28.60" y="199.18" font-size="5.8" text-anchor="end">-10.00</text>
<path d="M29.40 217.34H32.0" stroke="#555" stroke-width="0.9"/>
<text x="28.60" y="219.29" font-size="5.8" text-anchor="end">-20.00</text>
<path d="M41.12 227.4V229.70" stroke="#666" stroke-width="0.85"/>
<text x="41.12" y="234.70" font-size="5.8" text-anchor="middle">MLP</text>
<path d="M59.36 227.4V229.70" stroke="#666" stroke-width="0.85"/>
<text x="59.36" y="234.70" font-size="5.8" text-anchor="middle">CatBoost</text>
<path d="M77.59 227.4V229.70" stroke="#666" stroke-width="0.85"/>
<text x="77.59" y="234.70" font-size="5.8" text-anchor="middle">ERT</text>
<path d="M95.83 227.4V229.70" stroke="#666" stroke-width="0.85"/>
<text x="95.83" y="234.70" font-size="5.8" text-anchor="middle">GBRT</text>
<path d="M114.07 227.4V229.70" stroke="#666" stroke-width="0.85"/>
<text x="114.07" y="234.70" font-size="5.8" text-anchor="middle">MARS</text>
<path d="M132.31 227.4V229.70" stroke="#666" stroke-width="0.85"/>
<text x="132.31" y="234.70" font-size="5.8" text-anchor="middle">RF</text>
<path d="M150.54 227.4V229.70" stroke="#666" stroke-width="0.85"/>
<text x="150.54" y="234.70" font-size="5.8" text-anchor="middle">SGB</text>
<path d="M168.78 227.4V229.70" stroke="#666" stroke-width="0.85"/>
<text x="168.78" y="234.70" font-size="5.8" text-anchor="middle">SVR</text>
<text transform="translate(104.95 135.80) scale(1 0.96)" font-size="7.5" style="stroke-width:0.38px;fill:#1c1c1c;stroke:#1c1c1c" text-anchor="middle">MF</text>
<text transform="translate(11.82 182.15) rotate(-90)" font-size="5.8" text-anchor="middle">Bias (Mg/ha)</text>
<path d="M216.81 170.10V176.50M216.81 184.60V194.30" stroke="#747474" stroke-width="1.0" fill="none"/><path d="M214.62 170.10H218.99M214.62 194.30H218.99" stroke="#5c5c5c" stroke-width="1.1" fill="none"/><rect x="213.17" y="176.50" width="7.28" height="8.10" fill="#84d0c0" stroke="#3f6f68" stroke-width="0.8"/><path d="M213.17 182.60H220.44" stroke="#335e57" stroke-width="1.0"/><path d="M225.00 168.30V179.50M225.00 187.30V196.10" stroke="#747474" stroke-width="1.0" fill="none"/><path d="M222.81 168.30H227.18M222.81 196.10H227.18" stroke="#5c5c5c" stroke-width="1.1" fill="none"/><rect x="221.36" y="179.50" width="7.28" height="7.80" fill="#fcfaaa" stroke="#7e7e52" stroke-width="0.8"/><path d="M221.36 182.90H228.63" stroke="#737346" stroke-width="1.0"/><path d="M235.00 173.50V179.50M235.00 183.80V188.70" stroke="#747474" stroke-width="1.0" fill="none"/><path d="M232.82 173.50H237.19M232.82 188.70H237.19" stroke="#5c5c5c" stroke-width="1.1" fill="none"/><rect x="231.37" y="179.50" width="7.28" height="4.30" fill="#84d0c0" stroke="#3f6f68" stroke-width="0.8"/><path d="M231.37 181.50H238.64" stroke="#335e57" stroke-width="1.0"/><path d="M243.19 176.40V181.10M243.19 185.20V189.30" stroke="#747474" stroke-width="1.0" fill="none"/><path d="M241.01 176.40H245.38M241.01 189.30H245.38" stroke="#5c5c5c" stroke-width="1.1" fill="none"/><rect x="239.56" y="181.10" width="7.28" height="4.10" fill="#fcfaaa" stroke="#7e7e52" stroke-width="0.8"/><path d="M239.56 182.90H246.83" stroke="#737346" stroke-width="1.0"/><path d="M253.21 174.50V179.20M253.21 184.50V188.30" stroke="#747474" stroke-width="1.0" fill="none"/><path d="M251.02 174.50H255.39M251.02 188.30H255.39" stroke="#5c5c5c" stroke-width="1.1" fill="none"/><rect x="249.57" y="179.20" width="7.28" height="5.30" fill="#84d0c0" stroke="#3f6f68" stroke-width="0.8"/><path d="M249.57 181.90H256.85" stroke="#335e57" stroke-width="1.0"/><path d="M261.39 177.50V182.50M261.39 187.60V190.70" stroke="#747474" stroke-width="1.0" fill="none"/><path d="M259.21 177.50H263.58M259.21 190.70H263.58" stroke="#5c5c5c" stroke-width="1.1" fill="none"/><rect x="257.75" y="182.50" width="7.28" height="5.10" fill="#fcfaaa" stroke="#7e7e52" stroke-width="0.8"/><path d="M257.75 184.20H265.03" stroke="#737346" stroke-width="1.0"/><path d="M271.40 174.50V179.50M271.40 183.50V188.00" stroke="#747474" stroke-width="1.0" fill="none"/><path d="M269.22 174.50H273.59M269.22 188.00H273.59" stroke="#5c5c5c" stroke-width="1.1" fill="none"/><rect x="267.76" y="179.50" width="7.28" height="4.00" fill="#84d0c0" stroke="#3f6f68" stroke-width="0.8"/><path d="M267.76 181.10H275.04" stroke="#335e57" stroke-width="1.0"/><path d="M279.60 175.20V181.10M279.60 185.30V189.90" stroke="#747474" stroke-width="1.0" fill="none"/><path d="M277.41 175.20H281.78M277.41 189.90H281.78" stroke="#5c5c5c" stroke-width="1.1" fill="none"/><rect x="275.96" y="181.10" width="7.28" height="4.20" fill="#fcfaaa" stroke="#7e7e52" stroke-width="0.8"/><path d="M275.96 183.50H283.24" stroke="#737346" stroke-width="1.0"/><path d="M289.61 172.40V177.20M289.61 184.50V190.30" stroke="#747474" stroke-width="1.0" fill="none"/><path d="M287.42 172.40H291.79M287.42 190.30H291.79" stroke="#5c5c5c" stroke-width="1.1" fill="none"/><rect x="285.97" y="177.20" width="7.28" height="7.30" fill="#84d0c0" stroke="#3f6f68" stroke-width="0.8"/><path d="M285.97 181.30H293.25" stroke="#335e57" stroke-width="1.0"/><path d="M297.79 171.80V181.50M297.79 188.30V195.70" stroke="#747474" stroke-width="1.0" fill="none"/><path d="M295.61 171.80H299.98M295.61 195.70H299.98" stroke="#5c5c5c" stroke-width="1.1" fill="none"/><rect x="294.15" y="181.50" width="7.28" height="6.80" fill="#fcfaaa" stroke="#7e7e52" stroke-width="0.8"/><path d="M294.15 183.10H301.43" stroke="#737346" stroke-width="1.0"/><path d="M307.80 173.50V178.40M307.80 184.20V187.90" stroke="#747474" stroke-width="1.0" fill="none"/><path d="M305.62 173.50H309.99M305.62 187.90H309.99" stroke="#5c5c5c" stroke-width="1.1" fill="none"/><rect x="304.16" y="178.40" width="7.28" height="5.80" fill="#84d0c0" stroke="#3f6f68" stroke-width="0.8"/><path d="M304.16 180.90H311.44" stroke="#335e57" stroke-width="1.0"/><path d="M316.00 176.40V182.20M316.00 186.60V190.50" stroke="#747474" stroke-width="1.0" fill="none"/><path d="M313.81 176.40H318.18M313.81 190.50H318.18" stroke="#5c5c5c" stroke-width="1.1" fill="none"/><rect x="312.36" y="182.20" width="7.28" height="4.40" fill="#fcfaaa" stroke="#7e7e52" stroke-width="0.8"/><path d="M312.36 184.20H319.63" stroke="#737346" stroke-width="1.0"/><path d="M326.00 173.20V179.50M326.00 183.80V189.20" stroke="#747474" stroke-width="1.0" fill="none"/><path d="M323.82 173.20H328.19M323.82 189.20H328.19" stroke="#5c5c5c" stroke-width="1.1" fill="none"/><rect x="322.37" y="179.50" width="7.28" height="4.30" fill="#84d0c0" stroke="#3f6f68" stroke-width="0.8"/><path d="M322.37 181.50H329.64" stroke="#335e57" stroke-width="1.0"/><path d="M334.19 174.80V180.60M334.19 185.30V188.50" stroke="#747474" stroke-width="1.0" fill="none"/><path d="M332.01 174.80H336.38M332.01 188.50H336.38" stroke="#5c5c5c" stroke-width="1.1" fill="none"/><rect x="330.55" y="180.60" width="7.28" height="4.70" fill="#fcfaaa" stroke="#7e7e52" stroke-width="0.8"/><path d="M330.55 182.90H337.83" stroke="#737346" stroke-width="1.0"/><path d="M344.20 170.10V175.20M344.20 180.90V186.50" stroke="#747474" stroke-width="1.0" fill="none"/><path d="M342.02 170.10H346.39M342.02 186.50H346.39" stroke="#5c5c5c" stroke-width="1.1" fill="none"/><rect x="340.56" y="175.20" width="7.28" height="5.70" fill="#84d0c0" stroke="#3f6f68" stroke-width="0.8"/><path d="M340.56 177.20H347.84" stroke="#335e57" stroke-width="1.0"/><path d="M352.39 176.40V180.60M352.39 185.30V188.50" stroke="#747474" stroke-width="1.0" fill="none"/><path d="M350.21 176.40H354.58M350.21 188.50H354.58" stroke="#5c5c5c" stroke-width="1.1" fill="none"/><rect x="348.75" y="180.60" width="7.28" height="4.70" fill="#fcfaaa" stroke="#7e7e52" stroke-width="0.8"/><path d="M348.75 182.90H356.03" stroke="#737346" stroke-width="1.0"/>
<path d="M211.80 182.10H357.40" stroke="#f22a22" stroke-width="0.7" stroke-dasharray="2.4 0.8"/>
<rect x="211.8" y="136.9" width="145.60" height="90.40" fill="none" stroke="#8a8a8a" stroke-width="1.1"/>
<path d="M209.20 136.90H211.8" stroke="#555" stroke-width="0.9"/>
<text x="208.40" y="138.85" font-size="5.8" text-anchor="end">15.00</text>
<path d="M209.20 151.97H211.8" stroke="#555" stroke-width="0.9"/>
<text x="208.40" y="153.92" font-size="5.8" text-anchor="end">10.00</text>
<path d="M209.20 167.03H211.8" stroke="#555" stroke-width="0.9"/>
<text x="208.40" y="168.98" font-size="5.8" text-anchor="end">5.00</text>
<path d="M209.20 182.10H211.8" stroke="#555" stroke-width="0.9"/>
<text x="208.40" y="184.05" font-size="5.8" text-anchor="end">0.00</text>
<path d="M209.20 197.17H211.8" stroke="#555" stroke-width="0.9"/>
<text x="208.40" y="199.12" font-size="5.8" text-anchor="end">-5.00</text>
<path d="M209.20 212.23H211.8" stroke="#555" stroke-width="0.9"/>
<text x="208.40" y="214.18" font-size="5.8" text-anchor="end">-10.00</text>
<path d="M209.20 227.30H211.8" stroke="#555" stroke-width="0.9"/>
<text x="208.40" y="229.25" font-size="5.8" text-anchor="end">-15.00</text>
<path d="M220.90 227.3V229.60" stroke="#666" stroke-width="0.85"/>
<text x="220.90" y="234.60" font-size="5.8" text-anchor="middle">MLP</text>
<path d="M239.10 227.3V229.60" stroke="#666" stroke-width="0.85"/>
<text x="239.10" y="234.60" font-size="5.8" text-anchor="middle">CatBoost</text>
<path d="M257.30 227.3V229.60" stroke="#666" stroke-width="0.85"/>
<text x="257.30" y="234.60" font-size="5.8" text-anchor="middle">ERT</text>
<path d="M275.50 227.3V229.60" stroke="#666" stroke-width="0.85"/>
<text x="275.50" y="234.60" font-size="5.8" text-anchor="middle">GBRT</text>
<path d="M293.70 227.3V229.60" stroke="#666" stroke-width="0.85"/>
<text x="293.70" y="234.60" font-size="5.8" text-anchor="middle">MARS</text>
<path d="M311.90 227.3V229.60" stroke="#666" stroke-width="0.85"/>
<text x="311.90" y="234.60" font-size="5.8" text-anchor="middle">RF</text>
<path d="M330.10 227.3V229.60" stroke="#666" stroke-width="0.85"/>
<text x="330.10" y="234.60" font-size="5.8" text-anchor="middle">SGB</text>
<path d="M348.30 227.3V229.60" stroke="#666" stroke-width="0.85"/>
<text x="348.30" y="234.60" font-size="5.8" text-anchor="middle">SVR</text>
<text transform="translate(284.60 135.80) scale(1 0.96)" font-size="7.5" style="stroke-width:0.38px;fill:#1c1c1c;stroke:#1c1c1c" text-anchor="middle">WSA</text>
<text transform="translate(191.62 182.10) rotate(-90)" font-size="5.8" text-anchor="middle">Bias (Mg/ha)</text>
<path d="M397.02 171.10V188.30M397.02 201.60V219.40" stroke="#747474" stroke-width="1.0" fill="none"/><path d="M394.83 171.10H399.20M394.83 219.40H399.20" stroke="#5c5c5c" stroke-width="1.1" fill="none"/><rect x="393.37" y="188.30" width="7.29" height="13.30" fill="#84d0c0" stroke="#3f6f68" stroke-width="0.8"/><path d="M393.37 194.90H400.66" stroke="#335e57" stroke-width="1.0"/><path d="M405.22 171.30V192.30M405.22 206.70V226.50" stroke="#747474" stroke-width="1.0" fill="none"/><path d="M403.03 171.30H407.41M403.03 226.50H407.41" stroke="#5c5c5c" stroke-width="1.1" fill="none"/><rect x="401.57" y="192.30" width="7.29" height="14.40" fill="#fcfaaa" stroke="#7e7e52" stroke-width="0.8"/><path d="M401.57 197.30H408.87" stroke="#737346" stroke-width="1.0"/><path d="M415.25 173.30V188.30M415.25 200.90V210.90" stroke="#747474" stroke-width="1.0" fill="none"/><path d="M413.06 173.30H417.44M413.06 210.90H417.44" stroke="#5c5c5c" stroke-width="1.1" fill="none"/><rect x="411.61" y="188.30" width="7.29" height="12.60" fill="#84d0c0" stroke="#3f6f68" stroke-width="0.8"/><path d="M411.61 194.30H418.90" stroke="#335e57" stroke-width="1.0"/><path d="M423.46 179.80V191.90M423.46 201.10V213.50" stroke="#747474" stroke-width="1.0" fill="none"/><path d="M421.27 179.80H425.65M421.27 213.50H425.65" stroke="#5c5c5c" stroke-width="1.1" fill="none"/><rect x="419.81" y="191.90" width="7.29" height="9.20" fill="#fcfaaa" stroke="#7e7e52" stroke-width="0.8"/><path d="M419.81 195.90H427.11" stroke="#737346" stroke-width="1.0"/><path d="M433.49 177.40V191.60M433.49 205.10V223.90" stroke="#747474" stroke-width="1.0" fill="none"/><path d="M431.30 177.40H435.68M431.30 223.90H435.68" stroke="#5c5c5c" stroke-width="1.1" fill="none"/><rect x="429.84" y="191.60" width="7.29" height="13.50" fill="#84d0c0" stroke="#3f6f68" stroke-width="0.8"/><path d="M429.84 197.30H437.14" stroke="#335e57" stroke-width="1.0"/><path d="M441.70 183.40V194.30M441.70 202.30V212.10" stroke="#747474" stroke-width="1.0" fill="none"/><path d="M439.51 183.40H443.89M439.51 212.10H443.89" stroke="#5c5c5c" stroke-width="1.1" fill="none"/><rect x="438.05" y="194.30" width="7.29" height="8.00" fill="#fcfaaa" stroke="#7e7e52" stroke-width="0.8"/><path d="M438.05 198.40H445.34" stroke="#737346" stroke-width="1.0"/><path d="M451.73 180.10V189.90M451.73 202.90V212.40" stroke="#747474" stroke-width="1.0" fill="none"/><path d="M449.54 180.10H453.92M449.54 212.40H453.92" stroke="#5c5c5c" stroke-width="1.1" fill="none"/><rect x="448.08" y="189.90" width="7.29" height="13.00" fill="#84d0c0" stroke="#3f6f68" stroke-width="0.8"/><path d="M448.08 197.30H455.38" stroke="#335e57" stroke-width="1.0"/><path d="M459.93 182.50V192.60M459.93 201.10V212.40" stroke="#747474" stroke-width="1.0" fill="none"/><path d="M457.75 182.50H462.12M457.75 212.40H462.12" stroke="#5c5c5c" stroke-width="1.1" fill="none"/><rect x="456.29" y="192.60" width="7.29" height="8.50" fill="#fcfaaa" stroke="#7e7e52" stroke-width="0.8"/><path d="M456.29 196.90H463.58" stroke="#737346" stroke-width="1.0"/><path d="M469.97 177.40V192.20M469.97 204.40V222.60" stroke="#747474" stroke-width="1.0" fill="none"/><path d="M467.78 177.40H472.15M467.78 222.60H472.15" stroke="#5c5c5c" stroke-width="1.1" fill="none"/><rect x="466.32" y="192.20" width="7.29" height="12.20" fill="#84d0c0" stroke="#3f6f68" stroke-width="0.8"/><path d="M466.32 196.80H473.61" stroke="#335e57" stroke-width="1.0"/><path d="M478.17 183.20V192.60M478.17 205.40V212.40" stroke="#747474" stroke-width="1.0" fill="none"/><path d="M475.98 183.20H480.36M475.98 212.40H480.36" stroke="#5c5c5c" stroke-width="1.1" fill="none"/><rect x="474.52" y="192.60" width="7.29" height="12.80" fill="#fcfaaa" stroke="#7e7e52" stroke-width="0.8"/><path d="M474.52 200.30H481.82" stroke="#737346" stroke-width="1.0"/><path d="M488.20 177.40V192.60M488.20 204.70V213.40" stroke="#747474" stroke-width="1.0" fill="none"/><path d="M486.01 177.40H490.39M486.01 213.40H490.39" stroke="#5c5c5c" stroke-width="1.1" fill="none"/><rect x="484.56" y="192.60" width="7.29" height="12.10" fill="#84d0c0" stroke="#3f6f68" stroke-width="0.8"/><path d="M484.56 197.70H491.85" stroke="#335e57" stroke-width="1.0"/><path d="M496.41 181.60V192.90M496.41 201.30V211.40" stroke="#747474" stroke-width="1.0" fill="none"/><path d="M494.22 181.60H498.60M494.22 211.40H498.60" stroke="#5c5c5c" stroke-width="1.1" fill="none"/><rect x="492.76" y="192.90" width="7.29" height="8.40" fill="#fcfaaa" stroke="#7e7e52" stroke-width="0.8"/><path d="M492.76 197.30H500.06" stroke="#737346" stroke-width="1.0"/><path d="M506.44 178.50V191.00M506.44 204.70V224.20" stroke="#747474" stroke-width="1.0" fill="none"/><path d="M504.25 178.50H508.63M504.25 224.20H508.63" stroke="#5c5c5c" stroke-width="1.1" fill="none"/><rect x="502.79" y="191.00" width="7.29" height="13.70" fill="#84d0c0" stroke="#3f6f68" stroke-width="0.8"/><path d="M502.79 198.20H510.09" stroke="#335e57" stroke-width="1.0"/><path d="M514.65 182.20V193.30M514.65 200.40V209.40" stroke="#747474" stroke-width="1.0" fill="none"/><path d="M512.46 182.20H516.84M512.46 209.40H516.84" stroke="#5c5c5c" stroke-width="1.1" fill="none"/><rect x="511.00" y="193.30" width="7.29" height="7.10" fill="#fcfaaa" stroke="#7e7e52" stroke-width="0.8"/><path d="M511.00 197.30H518.29" stroke="#737346" stroke-width="1.0"/><path d="M524.68 172.70V186.50M524.68 196.40V203.30" stroke="#747474" stroke-width="1.0" fill="none"/><path d="M522.49 172.70H526.87M522.49 203.30H526.87" stroke="#5c5c5c" stroke-width="1.1" fill="none"/><rect x="521.03" y="186.50" width="7.29" height="9.90" fill="#84d0c0" stroke="#3f6f68" stroke-width="0.8"/><path d="M521.03 190.30H528.33" stroke="#335e57" stroke-width="1.0"/><path d="M532.88 183.40V194.30M532.88 201.10V211.40" stroke="#747474" stroke-width="1.0" fill="none"/><path d="M530.70 183.40H535.07M530.70 211.40H535.07" stroke="#5c5c5c" stroke-width="1.1" fill="none"/><rect x="529.24" y="194.30" width="7.29" height="6.80" fill="#fcfaaa" stroke="#7e7e52" stroke-width="0.8"/><path d="M529.24 197.90H536.53" stroke="#737346" stroke-width="1.0"/>
<path d="M392.00 197.23H537.90" stroke="#f22a22" stroke-width="0.7" stroke-dasharray="2.4 0.8"/>
<rect x="392.0" y="136.9" width="145.90" height="90.50" fill="none" stroke="#8a8a8a" stroke-width="1.1"/>
<path d="M389.40 136.90H392.0" stroke="#555" stroke-width="0.9"/>
<text x="388.60" y="138.85" font-size="5.8" text-anchor="end">20.00</text>
<path d="M389.40 151.98H392.0" stroke="#555" stroke-width="0.9"/>
<text x="388.60" y="153.93" font-size="5.8" text-anchor="end">15.00</text>
<path d="M389.40 167.07H392.0" stroke="#555" stroke-width="0.9"/>
<text x="388.60" y="169.02" font-size="5.8" text-anchor="end">10.00</text>
<path d="M389.40 182.15H392.0" stroke="#555" stroke-width="0.9"/>
<text x="388.60" y="184.10" font-size="5.8" text-anchor="end">5.00</text>
<path d="M389.40 197.23H392.0" stroke="#555" stroke-width="0.9"/>
<text x="388.60" y="199.18" font-size="5.8" text-anchor="end">0.00</text>
<path d="M389.40 212.32H392.0" stroke="#555" stroke-width="0.9"/>
<text x="388.60" y="214.27" font-size="5.8" text-anchor="end">-5.00</text>
<path d="M389.40 227.40H392.0" stroke="#555" stroke-width="0.9"/>
<text x="388.60" y="229.35" font-size="5.8" text-anchor="end">-10.00</text>
<path d="M401.12 227.4V229.70" stroke="#666" stroke-width="0.85"/>
<text x="401.12" y="234.70" font-size="5.8" text-anchor="middle">MLP</text>
<path d="M419.36 227.4V229.70" stroke="#666" stroke-width="0.85"/>
<text x="419.36" y="234.70" font-size="5.8" text-anchor="middle">CatBoost</text>
<path d="M437.59 227.4V229.70" stroke="#666" stroke-width="0.85"/>
<text x="437.59" y="234.70" font-size="5.8" text-anchor="middle">ERT</text>
<path d="M455.83 227.4V229.70" stroke="#666" stroke-width="0.85"/>
<text x="455.83" y="234.70" font-size="5.8" text-anchor="middle">GBRT</text>
<path d="M474.07 227.4V229.70" stroke="#666" stroke-width="0.85"/>
<text x="474.07" y="234.70" font-size="5.8" text-anchor="middle">MARS</text>
<path d="M492.31 227.4V229.70" stroke="#666" stroke-width="0.85"/>
<text x="492.31" y="234.70" font-size="5.8" text-anchor="middle">RF</text>
<path d="M510.54 227.4V229.70" stroke="#666" stroke-width="0.85"/>
<text x="510.54" y="234.70" font-size="5.8" text-anchor="middle">SGB</text>
<path d="M528.78 227.4V229.70" stroke="#666" stroke-width="0.85"/>
<text x="528.78" y="234.70" font-size="5.8" text-anchor="middle">SVR</text>
<text transform="translate(464.95 135.80) scale(1 0.96)" font-size="7.5" style="stroke-width:0.38px;fill:#1c1c1c;stroke:#1c1c1c" text-anchor="middle">SAV</text>
<text transform="translate(371.82 182.15) rotate(-90)" font-size="5.8" text-anchor="middle">Bias (Mg/ha)</text>
<path d="M37.41 292.50V300.80M37.41 308.60V319.10" stroke="#747474" stroke-width="1.0" fill="none"/><path d="M35.22 292.50H39.59M35.22 319.10H39.59" stroke="#5c5c5c" stroke-width="1.1" fill="none"/><rect x="33.77" y="300.80" width="7.28" height="7.80" fill="#84d0c0" stroke="#3f6f68" stroke-width="0.8"/><path d="M33.77 304.30H41.05" stroke="#335e57" stroke-width="1.0"/><path d="M45.59 293.80V301.50M45.59 309.30V318.70" stroke="#747474" stroke-width="1.0" fill="none"/><path d="M43.41 293.80H47.78M43.41 318.70H47.78" stroke="#5c5c5c" stroke-width="1.1" fill="none"/><rect x="41.95" y="301.50" width="7.28" height="7.80" fill="#fcfaaa" stroke="#7e7e52" stroke-width="0.8"/><path d="M41.95 305.30H49.23" stroke="#737346" stroke-width="1.0"/><path d="M55.60 292.50V303.70M55.60 311.30V322.50" stroke="#747474" stroke-width="1.0" fill="none"/><path d="M53.42 292.50H57.79M53.42 322.50H57.79" stroke="#5c5c5c" stroke-width="1.1" fill="none"/><rect x="51.96" y="303.70" width="7.28" height="7.60" fill="#84d0c0" stroke="#3f6f68" stroke-width="0.8"/><path d="M51.96 307.30H59.24" stroke="#335e57" stroke-width="1.0"/><path d="M63.79 291.50V302.30M63.79 312.30V325.70" stroke="#747474" stroke-width="1.0" fill="none"/><path d="M61.61 291.50H65.98M61.61 325.70H65.98" stroke="#5c5c5c" stroke-width="1.1" fill="none"/><rect x="60.15" y="302.30" width="7.28" height="10.00" fill="#fcfaaa" stroke="#7e7e52" stroke-width="0.8"/><path d="M60.15 306.60H67.43" stroke="#737346" stroke-width="1.0"/><path d="M73.81 293.20V302.60M73.81 311.30V323.40" stroke="#747474" stroke-width="1.0" fill="none"/><path d="M71.62 293.20H75.99M71.62 323.40H75.99" stroke="#5c5c5c" stroke-width="1.1" fill="none"/><rect x="70.17" y="302.60" width="7.28" height="8.70" fill="#84d0c0" stroke="#3f6f68" stroke-width="0.8"/><path d="M70.17 306.60H77.45" stroke="#335e57" stroke-width="1.0"/><path d="M82.00 295.50V303.70M82.00 312.70V323.80" stroke="#747474" stroke-width="1.0" fill="none"/><path d="M79.81 295.50H84.18M79.81 323.80H84.18" stroke="#5c5c5c" stroke-width="1.1" fill="none"/><rect x="78.36" y="303.70" width="7.28" height="9.00" fill="#fcfaaa" stroke="#7e7e52" stroke-width="0.8"/><path d="M78.36 307.30H85.64" stroke="#737346" stroke-width="1.0"/><path d="M92.00 286.40V297.50M92.00 306.20V318.10" stroke="#747474" stroke-width="1.0" fill="none"/><path d="M89.82 286.40H94.19M89.82 318.10H94.19" stroke="#5c5c5c" stroke-width="1.1" fill="none"/><rect x="88.36" y="297.50" width="7.28" height="8.70" fill="#84d0c0" stroke="#3f6f68" stroke-width="0.8"/><path d="M88.36 302.30H95.64" stroke="#335e57" stroke-width="1.0"/><path d="M100.19 290.50V302.60M100.19 310.90V321.40" stroke="#747474" stroke-width="1.0" fill="none"/><path d="M98.01 290.50H102.38M98.01 321.40H102.38" stroke="#5c5c5c" stroke-width="1.1" fill="none"/><rect x="96.55" y="302.60" width="7.28" height="8.30" fill="#fcfaaa" stroke="#7e7e52" stroke-width="0.8"/><path d="M96.55 306.40H103.83" stroke="#737346" stroke-width="1.0"/><path d="M110.20 292.10V303.30M110.20 311.30V322.40" stroke="#747474" stroke-width="1.0" fill="none"/><path d="M108.02 292.10H112.39M108.02 322.40H112.39" stroke="#5c5c5c" stroke-width="1.1" fill="none"/><rect x="106.56" y="303.30" width="7.28" height="8.00" fill="#84d0c0" stroke="#3f6f68" stroke-width="0.8"/><path d="M106.56 306.40H113.84" stroke="#335e57" stroke-width="1.0"/><path d="M118.39 292.90V301.60M118.39 309.70V321.40" stroke="#747474" stroke-width="1.0" fill="none"/><path d="M116.21 292.90H120.58M116.21 321.40H120.58" stroke="#5c5c5c" stroke-width="1.1" fill="none"/><rect x="114.75" y="301.60" width="7.28" height="8.10" fill="#fcfaaa" stroke="#7e7e52" stroke-width="0.8"/><path d="M114.75 305.30H122.03" stroke="#737346" stroke-width="1.0"/><path d="M128.41 296.10V303.50M128.41 309.30V317.10" stroke="#747474" stroke-width="1.0" fill="none"/><path d="M126.22 296.10H130.59M126.22 317.10H130.59" stroke="#5c5c5c" stroke-width="1.1" fill="none"/><rect x="124.77" y="303.50" width="7.28" height="5.80" fill="#84d0c0" stroke="#3f6f68" stroke-width="0.8"/><path d="M124.77 306.60H132.04" stroke="#335e57" stroke-width="1.0"/><path d="M136.59 292.50V303.30M136.59 313.10V325.50" stroke="#747474" stroke-width="1.0" fill="none"/><path d="M134.41 292.50H138.78M134.41 325.50H138.78" stroke="#5c5c5c" stroke-width="1.1" fill="none"/><rect x="132.96" y="303.30" width="7.28" height="9.80" fill="#fcfaaa" stroke="#7e7e52" stroke-width="0.8"/><path d="M132.96 306.90H140.23" stroke="#737346" stroke-width="1.0"/><path d="M146.60 291.10V301.20M146.60 309.00V320.70" stroke="#747474" stroke-width="1.0" fill="none"/><path d="M144.42 291.10H148.79M144.42 320.70H148.79" stroke="#5c5c5c" stroke-width="1.1" fill="none"/><rect x="142.97" y="301.20" width="7.28" height="7.80" fill="#84d0c0" stroke="#3f6f68" stroke-width="0.8"/><path d="M142.97 304.90H150.24" stroke="#335e57" stroke-width="1.0"/><path d="M154.79 290.70V302.60M154.79 310.40V322.50" stroke="#747474" stroke-width="1.0" fill="none"/><path d="M152.61 290.70H156.98M152.61 322.50H156.98" stroke="#5c5c5c" stroke-width="1.1" fill="none"/><rect x="151.16" y="302.60" width="7.28" height="7.80" fill="#fcfaaa" stroke="#7e7e52" stroke-width="0.8"/><path d="M151.16 306.60H158.43" stroke="#737346" stroke-width="1.0"/><path d="M164.81 283.10V298.50M164.81 310.70V321.80" stroke="#747474" stroke-width="1.0" fill="none"/><path d="M162.62 283.10H166.99M162.62 321.80H166.99" stroke="#5c5c5c" stroke-width="1.1" fill="none"/><rect x="161.17" y="298.50" width="7.28" height="12.20" fill="#84d0c0" stroke="#3f6f68" stroke-width="0.8"/><path d="M161.17 303.90H168.44" stroke="#335e57" stroke-width="1.0"/><path d="M173.00 290.50V301.60M173.00 311.10V324.80" stroke="#747474" stroke-width="1.0" fill="none"/><path d="M170.81 290.50H175.18M170.81 324.80H175.18" stroke="#5c5c5c" stroke-width="1.1" fill="none"/><rect x="169.36" y="301.60" width="7.28" height="9.50" fill="#fcfaaa" stroke="#7e7e52" stroke-width="0.8"/><path d="M169.36 306.60H176.63" stroke="#737346" stroke-width="1.0"/>
<rect x="32.4" y="252.8" width="145.60" height="90.60" fill="none" stroke="#8a8a8a" stroke-width="1.1"/>
<path d="M29.80 252.80H32.4" stroke="#555" stroke-width="0.9"/>
<text x="29.00" y="254.75" font-size="5.8" text-anchor="end">140</text>
<path d="M29.80 267.90H32.4" stroke="#555" stroke-width="0.9"/>
<text x="29.00" y="269.85" font-size="5.8" text-anchor="end">120</text>
<path d="M29.80 283.00H32.4" stroke="#555" stroke-width="0.9"/>
<text x="29.00" y="284.95" font-size="5.8" text-anchor="end">100</text>
<path d="M29.80 298.10H32.4" stroke="#555" stroke-width="0.9"/>
<text x="29.00" y="300.05" font-size="5.8" text-anchor="end">80</text>
<path d="M29.80 313.20H32.4" stroke="#555" stroke-width="0.9"/>
<text x="29.00" y="315.15" font-size="5.8" text-anchor="end">60</text>
<path d="M29.80 328.30H32.4" stroke="#555" stroke-width="0.9"/>
<text x="29.00" y="330.25" font-size="5.8" text-anchor="end">40</text>
<path d="M29.80 343.40H32.4" stroke="#555" stroke-width="0.9"/>
<text x="29.00" y="345.35" font-size="5.8" text-anchor="end">20</text>
<path d="M41.50 343.4V345.70" stroke="#666" stroke-width="0.85"/>
<text x="41.50" y="350.70" font-size="5.8" text-anchor="middle">MLP</text>
<path d="M59.70 343.4V345.70" stroke="#666" stroke-width="0.85"/>
<text x="59.70" y="350.70" font-size="5.8" text-anchor="middle">CatBoost</text>
<path d="M77.90 343.4V345.70" stroke="#666" stroke-width="0.85"/>
<text x="77.90" y="350.70" font-size="5.8" text-anchor="middle">ERT</text>
<path d="M96.10 343.4V345.70" stroke="#666" stroke-width="0.85"/>
<text x="96.10" y="350.70" font-size="5.8" text-anchor="middle">GBRT</text>
<path d="M114.30 343.4V345.70" stroke="#666" stroke-width="0.85"/>
<text x="114.30" y="350.70" font-size="5.8" text-anchor="middle">MARS</text>
<path d="M132.50 343.4V345.70" stroke="#666" stroke-width="0.85"/>
<text x="132.50" y="350.70" font-size="5.8" text-anchor="middle">RF</text>
<path d="M150.70 343.4V345.70" stroke="#666" stroke-width="0.85"/>
<text x="150.70" y="350.70" font-size="5.8" text-anchor="middle">SGB</text>
<path d="M168.90 343.4V345.70" stroke="#666" stroke-width="0.85"/>
<text x="168.90" y="350.70" font-size="5.8" text-anchor="middle">SVR</text>
<text transform="translate(105.20 251.70) scale(1 0.96)" font-size="7.5" style="stroke-width:0.38px;fill:#1c1c1c;stroke:#1c1c1c" text-anchor="middle">ENF</text>
<text transform="translate(17.80 298.10) rotate(-90)" font-size="5.8" text-anchor="middle">Relative RMSE (%)</text>
<path d="M216.52 282.70V286.80M216.52 295.20V303.90" stroke="#747474" stroke-width="1.0" fill="none"/><path d="M214.33 282.70H218.70M214.33 303.90H218.70" stroke="#5c5c5c" stroke-width="1.1" fill="none"/><rect x="212.87" y="286.80" width="7.29" height="8.40" fill="#84d0c0" stroke="#3f6f68" stroke-width="0.8"/><path d="M212.87 290.50H220.16" stroke="#335e57" stroke-width="1.0"/><path d="M224.72 293.20V298.50M224.72 306.60V315.40" stroke="#747474" stroke-width="1.0" fill="none"/><path d="M222.53 293.20H226.91M222.53 315.40H226.91" stroke="#5c5c5c" stroke-width="1.1" fill="none"/><rect x="221.07" y="298.50" width="7.29" height="8.10" fill="#fcfaaa" stroke="#7e7e52" stroke-width="0.8"/><path d="M221.07 303.30H228.37" stroke="#737346" stroke-width="1.0"/><path d="M234.75 306.20V312.00M234.75 317.40V325.50" stroke="#747474" stroke-width="1.0" fill="none"/><path d="M232.56 306.20H236.94M232.56 325.50H236.94" stroke="#5c5c5c" stroke-width="1.1" fill="none"/><rect x="231.11" y="312.00" width="7.29" height="5.40" fill="#84d0c0" stroke="#3f6f68" stroke-width="0.8"/><path d="M231.11 315.00H238.40" stroke="#335e57" stroke-width="1.0"/><path d="M242.96 307.30V312.70M242.96 318.30V323.20" stroke="#747474" stroke-width="1.0" fill="none"/><path d="M240.77 307.30H245.15M240.77 323.20H245.15" stroke="#5c5c5c" stroke-width="1.1" fill="none"/><rect x="239.31" y="312.70" width="7.29" height="5.60" fill="#fcfaaa" stroke="#7e7e52" stroke-width="0.8"/><path d="M239.31 315.00H246.61" stroke="#737346" stroke-width="1.0"/><path d="M252.99 308.60V313.60M252.99 320.30V328.40" stroke="#747474" stroke-width="1.0" fill="none"/><path d="M250.80 308.60H255.18M250.80 328.40H255.18" stroke="#5c5c5c" stroke-width="1.1" fill="none"/><rect x="249.34" y="313.60" width="7.29" height="6.70" fill="#84d0c0" stroke="#3f6f68" stroke-width="0.8"/><path d="M249.34 317.00H256.64" stroke="#335e57" stroke-width="1.0"/><path d="M261.20 308.40V313.60M261.20 319.40V327.10" stroke="#747474" stroke-width="1.0" fill="none"/><path d="M259.01 308.40H263.39M259.01 327.10H263.39" stroke="#5c5c5c" stroke-width="1.1" fill="none"/><rect x="257.55" y="313.60" width="7.29" height="5.80" fill="#fcfaaa" stroke="#7e7e52" stroke-width="0.8"/><path d="M257.55 316.00H264.84" stroke="#737346" stroke-width="1.0"/><path d="M271.23 303.50V308.60M271.23 315.40V325.10" stroke="#747474" stroke-width="1.0" fill="none"/><path d="M269.04 303.50H273.42M269.04 325.10H273.42" stroke="#5c5c5c" stroke-width="1.1" fill="none"/><rect x="267.58" y="308.60" width="7.29" height="6.80" fill="#84d0c0" stroke="#3f6f68" stroke-width="0.8"/><path d="M267.58 312.70H274.88" stroke="#335e57" stroke-width="1.0"/><path d="M279.43 303.50V309.60M279.43 316.30V322.10" stroke="#747474" stroke-width="1.0" fill="none"/><path d="M277.25 303.50H281.62M277.25 322.10H281.62" stroke="#5c5c5c" stroke-width="1.1" fill="none"/><rect x="275.79" y="309.60" width="7.29" height="6.70" fill="#fcfaaa" stroke="#7e7e52" stroke-width="0.8"/><path d="M275.79 313.30H283.08" stroke="#737346" stroke-width="1.0"/><path d="M289.47 288.90V295.50M289.47 304.20V313.30" stroke="#747474" stroke-width="1.0" fill="none"/><path d="M287.28 288.90H291.65M287.28 313.30H291.65" stroke="#5c5c5c" stroke-width="1.1" fill="none"/><rect x="285.82" y="295.50" width="7.29" height="8.70" fill="#84d0c0" stroke="#3f6f68" stroke-width="0.8"/><path d="M285.82 299.90H293.11" stroke="#335e57" stroke-width="1.0"/><path d="M297.67 283.30V294.50M297.67 303.30V311.70" stroke="#747474" stroke-width="1.0" fill="none"/><path d="M295.48 283.30H299.86M295.48 311.70H299.86" stroke="#5c5c5c" stroke-width="1.1" fill="none"/><rect x="294.02" y="294.50" width="7.29" height="8.80" fill="#fcfaaa" stroke="#7e7e52" stroke-width="0.8"/><path d="M294.02 299.20H301.32" stroke="#737346" stroke-width="1.0"/><path d="M307.70 306.90V314.00M307.70 319.40V327.20" stroke="#747474" stroke-width="1.0" fill="none"/><path d="M305.51 306.90H309.89M305.51 327.20H309.89" stroke="#5c5c5c" stroke-width="1.1" fill="none"/><rect x="304.06" y="314.00" width="7.29" height="5.40" fill="#84d0c0" stroke="#3f6f68" stroke-width="0.8"/><path d="M304.06 316.30H311.35" stroke="#335e57" stroke-width="1.0"/><path d="M315.91 306.60V312.00M315.91 318.50V328.10" stroke="#747474" stroke-width="1.0" fill="none"/><path d="M313.72 306.60H318.10M313.72 328.10H318.10" stroke="#5c5c5c" stroke-width="1.1" fill="none"/><rect x="312.26" y="312.00" width="7.29" height="6.50" fill="#fcfaaa" stroke="#7e7e52" stroke-width="0.8"/><path d="M312.26 315.00H319.56" stroke="#737346" stroke-width="1.0"/><path d="M325.94 306.60V313.30M325.94 318.50V325.50" stroke="#747474" stroke-width="1.0" fill="none"/><path d="M323.75 306.60H328.13M323.75 325.50H328.13" stroke="#5c5c5c" stroke-width="1.1" fill="none"/><rect x="322.29" y="313.30" width="7.29" height="5.20" fill="#84d0c0" stroke="#3f6f68" stroke-width="0.8"/><path d="M322.29 315.60H329.59" stroke="#335e57" stroke-width="1.0"/><path d="M334.15 306.60V311.30M334.15 318.50V327.20" stroke="#747474" stroke-width="1.0" fill="none"/><path d="M331.96 306.60H336.34M331.96 327.20H336.34" stroke="#5c5c5c" stroke-width="1.1" fill="none"/><rect x="330.50" y="311.30" width="7.29" height="7.20" fill="#fcfaaa" stroke="#7e7e52" stroke-width="0.8"/><path d="M330.50 315.40H337.79" stroke="#737346" stroke-width="1.0"/><path d="M344.18 302.90V307.60M344.18 315.10V326.80" stroke="#747474" stroke-width="1.0" fill="none"/><path d="M341.99 302.90H346.37M341.99 326.80H346.37" stroke="#5c5c5c" stroke-width="1.1" fill="none"/><rect x="340.53" y="307.60" width="7.29" height="7.50" fill="#84d0c0" stroke="#3f6f68" stroke-width="0.8"/><path d="M340.53 309.70H347.83" stroke="#335e57" stroke-width="1.0"/><path d="M352.38 301.90V308.00M352.38 315.10V324.40" stroke="#747474" stroke-width="1.0" fill="none"/><path d="M350.20 301.90H354.57M350.20 324.40H354.57" stroke="#5c5c5c" stroke-width="1.1" fill="none"/><rect x="348.74" y="308.00" width="7.29" height="7.10" fill="#fcfaaa" stroke="#7e7e52" stroke-width="0.8"/><path d="M348.74 310.40H356.03" stroke="#737346" stroke-width="1.0"/>
<rect x="211.5" y="252.8" width="145.90" height="90.50" fill="none" stroke="#8a8a8a" stroke-width="1.1"/>
<path d="M208.90 252.80H211.5" stroke="#555" stroke-width="0.9"/>
<text x="208.10" y="254.75" font-size="5.8" text-anchor="end">45</text>
<path d="M208.90 270.90H211.5" stroke="#555" stroke-width="0.9"/>
<text x="208.10" y="272.85" font-size="5.8" text-anchor="end">40</text>
<path d="M208.90 289.00H211.5" stroke="#555" stroke-width="0.9"/>
<text x="208.10" y="290.95" font-size="5.8" text-anchor="end">35</text>
<path d="M208.90 307.10H211.5" stroke="#555" stroke-width="0.9"/>
<text x="208.10" y="309.05" font-size="5.8" text-anchor="end">30</text>
<path d="M208.90 325.20H211.5" stroke="#555" stroke-width="0.9"/>
<text x="208.10" y="327.15" font-size="5.8" text-anchor="end">25</text>
<path d="M208.90 343.30H211.5" stroke="#555" stroke-width="0.9"/>
<text x="208.10" y="345.25" font-size="5.8" text-anchor="end">20</text>
<path d="M220.62 343.3V345.60" stroke="#666" stroke-width="0.85"/>
<text x="220.62" y="350.60" font-size="5.8" text-anchor="middle">MLP</text>
<path d="M238.86 343.3V345.60" stroke="#666" stroke-width="0.85"/>
<text x="238.86" y="350.60" font-size="5.8" text-anchor="middle">CatBoost</text>
<path d="M257.09 343.3V345.60" stroke="#666" stroke-width="0.85"/>
<text x="257.09" y="350.60" font-size="5.8" text-anchor="middle">ERT</text>
<path d="M275.33 343.3V345.60" stroke="#666" stroke-width="0.85"/>
<text x="275.33" y="350.60" font-size="5.8" text-anchor="middle">GBRT</text>
<path d="M293.57 343.3V345.60" stroke="#666" stroke-width="0.85"/>
<text x="293.57" y="350.60" font-size="5.8" text-anchor="middle">MARS</text>
<path d="M311.81 343.3V345.60" stroke="#666" stroke-width="0.85"/>
<text x="311.81" y="350.60" font-size="5.8" text-anchor="middle">RF</text>
<path d="M330.04 343.3V345.60" stroke="#666" stroke-width="0.85"/>
<text x="330.04" y="350.60" font-size="5.8" text-anchor="middle">SGB</text>
<path d="M348.28 343.3V345.60" stroke="#666" stroke-width="0.85"/>
<text x="348.28" y="350.60" font-size="5.8" text-anchor="middle">SVR</text>
<text transform="translate(284.45 251.70) scale(1 0.96)" font-size="7.5" style="stroke-width:0.38px;fill:#1c1c1c;stroke:#1c1c1c" text-anchor="middle">EBF</text>
<text transform="translate(199.80 298.05) rotate(-90)" font-size="5.8" text-anchor="middle">Relative RMSE (%)</text>
<path d="M396.52 298.40V304.20M396.52 308.30V312.30" stroke="#747474" stroke-width="1.0" fill="none"/><path d="M394.33 298.40H398.70M394.33 312.30H398.70" stroke="#5c5c5c" stroke-width="1.1" fill="none"/><rect x="392.87" y="304.20" width="7.29" height="4.10" fill="#84d0c0" stroke="#3f6f68" stroke-width="0.8"/><path d="M392.87 306.00H400.16" stroke="#335e57" stroke-width="1.0"/><path d="M404.72 298.80V303.10M404.72 307.60V311.60" stroke="#747474" stroke-width="1.0" fill="none"/><path d="M402.53 298.80H406.91M402.53 311.60H406.91" stroke="#5c5c5c" stroke-width="1.1" fill="none"/><rect x="401.07" y="303.10" width="7.29" height="4.50" fill="#fcfaaa" stroke="#7e7e52" stroke-width="0.8"/><path d="M401.07 305.20H408.37" stroke="#737346" stroke-width="1.0"/><path d="M414.75 311.60V316.10M414.75 321.40V323.30" stroke="#747474" stroke-width="1.0" fill="none"/><path d="M412.56 311.60H416.94M412.56 323.30H416.94" stroke="#5c5c5c" stroke-width="1.1" fill="none"/><rect x="411.11" y="316.10" width="7.29" height="5.30" fill="#84d0c0" stroke="#3f6f68" stroke-width="0.8"/><path d="M411.11 319.00H418.40" stroke="#335e57" stroke-width="1.0"/><path d="M422.96 311.60V316.60M422.96 321.00V324.70" stroke="#747474" stroke-width="1.0" fill="none"/><path d="M420.77 311.60H425.15M420.77 324.70H425.15" stroke="#5c5c5c" stroke-width="1.1" fill="none"/><rect x="419.31" y="316.60" width="7.29" height="4.40" fill="#fcfaaa" stroke="#7e7e52" stroke-width="0.8"/><path d="M419.31 319.00H426.61" stroke="#737346" stroke-width="1.0"/><path d="M432.99 308.50V313.60M432.99 318.80V321.40" stroke="#747474" stroke-width="1.0" fill="none"/><path d="M430.80 308.50H435.18M430.80 321.40H435.18" stroke="#5c5c5c" stroke-width="1.1" fill="none"/><rect x="429.34" y="313.60" width="7.29" height="5.20" fill="#84d0c0" stroke="#3f6f68" stroke-width="0.8"/><path d="M429.34 315.70H436.64" stroke="#335e57" stroke-width="1.0"/><path d="M441.20 308.70V312.70M441.20 317.70V321.00" stroke="#747474" stroke-width="1.0" fill="none"/><path d="M439.01 308.70H443.39M439.01 321.00H443.39" stroke="#5c5c5c" stroke-width="1.1" fill="none"/><rect x="437.55" y="312.70" width="7.29" height="5.00" fill="#fcfaaa" stroke="#7e7e52" stroke-width="0.8"/><path d="M437.55 315.30H444.84" stroke="#737346" stroke-width="1.0"/><path d="M451.23 304.50V312.30M451.23 317.00V321.00" stroke="#747474" stroke-width="1.0" fill="none"/><path d="M449.04 304.50H453.42M449.04 321.00H453.42" stroke="#5c5c5c" stroke-width="1.1" fill="none"/><rect x="447.58" y="312.30" width="7.29" height="4.70" fill="#84d0c0" stroke="#3f6f68" stroke-width="0.8"/><path d="M447.58 314.30H454.88" stroke="#335e57" stroke-width="1.0"/><path d="M459.43 308.50V314.30M459.43 319.30V323.30" stroke="#747474" stroke-width="1.0" fill="none"/><path d="M457.25 308.50H461.62M457.25 323.30H461.62" stroke="#5c5c5c" stroke-width="1.1" fill="none"/><rect x="455.79" y="314.30" width="7.29" height="5.00" fill="#fcfaaa" stroke="#7e7e52" stroke-width="0.8"/><path d="M455.79 316.60H463.08" stroke="#737346" stroke-width="1.0"/><path d="M469.47 291.70V297.90M469.47 305.20V310.70" stroke="#747474" stroke-width="1.0" fill="none"/><path d="M467.28 291.70H471.65M467.28 310.70H471.65" stroke="#5c5c5c" stroke-width="1.1" fill="none"/><rect x="465.82" y="297.90" width="7.29" height="7.30" fill="#84d0c0" stroke="#3f6f68" stroke-width="0.8"/><path d="M465.82 301.50H473.11" stroke="#335e57" stroke-width="1.0"/><path d="M477.67 291.70V296.50M477.67 300.50V304.50" stroke="#747474" stroke-width="1.0" fill="none"/><path d="M475.48 291.70H479.86M475.48 304.50H479.86" stroke="#5c5c5c" stroke-width="1.1" fill="none"/><rect x="474.02" y="296.50" width="7.29" height="4.00" fill="#fcfaaa" stroke="#7e7e52" stroke-width="0.8"/><path d="M474.02 298.20H481.32" stroke="#737346" stroke-width="1.0"/><path d="M487.70 305.60V313.00M487.70 318.30V321.40" stroke="#747474" stroke-width="1.0" fill="none"/><path d="M485.51 305.60H489.89M485.51 321.40H489.89" stroke="#5c5c5c" stroke-width="1.1" fill="none"/><rect x="484.06" y="313.00" width="7.29" height="5.30" fill="#84d0c0" stroke="#3f6f68" stroke-width="0.8"/><path d="M484.06 315.40H491.35" stroke="#335e57" stroke-width="1.0"/><path d="M495.91 309.60V313.90M495.91 317.70V322.40" stroke="#747474" stroke-width="1.0" fill="none"/><path d="M493.72 309.60H498.10M493.72 322.40H498.10" stroke="#5c5c5c" stroke-width="1.1" fill="none"/><rect x="492.26" y="313.90" width="7.29" height="3.80" fill="#fcfaaa" stroke="#7e7e52" stroke-width="0.8"/><path d="M492.26 315.70H499.56" stroke="#737346" stroke-width="1.0"/><path d="M505.94 306.60V313.60M505.94 319.70V322.40" stroke="#747474" stroke-width="1.0" fill="none"/><path d="M503.75 306.60H508.13M503.75 322.40H508.13" stroke="#5c5c5c" stroke-width="1.1" fill="none"/><rect x="502.29" y="313.60" width="7.29" height="6.10" fill="#84d0c0" stroke="#3f6f68" stroke-width="0.8"/><path d="M502.29 316.30H509.59" stroke="#335e57" stroke-width="1.0"/><path d="M514.15 310.30V316.10M514.15 320.40V324.80" stroke="#747474" stroke-width="1.0" fill="none"/><path d="M511.96 310.30H516.34M511.96 324.80H516.34" stroke="#5c5c5c" stroke-width="1.1" fill="none"/><rect x="510.50" y="316.10" width="7.29" height="4.30" fill="#fcfaaa" stroke="#7e7e52" stroke-width="0.8"/><path d="M510.50 318.10H517.79" stroke="#737346" stroke-width="1.0"/><path d="M524.18 301.30V306.90M524.18 310.70V315.30" stroke="#747474" stroke-width="1.0" fill="none"/><path d="M521.99 301.30H526.37M521.99 315.30H526.37" stroke="#5c5c5c" stroke-width="1.1" fill="none"/><rect x="520.53" y="306.90" width="7.29" height="3.80" fill="#84d0c0" stroke="#3f6f68" stroke-width="0.8"/><path d="M520.53 308.90H527.83" stroke="#335e57" stroke-width="1.0"/><path d="M532.38 301.30V306.50M532.38 311.40V315.30" stroke="#747474" stroke-width="1.0" fill="none"/><path d="M530.20 301.30H534.57M530.20 315.30H534.57" stroke="#5c5c5c" stroke-width="1.1" fill="none"/><rect x="528.74" y="306.50" width="7.29" height="4.90" fill="#fcfaaa" stroke="#7e7e52" stroke-width="0.8"/><path d="M528.74 308.30H536.03" stroke="#737346" stroke-width="1.0"/>
<rect x="391.5" y="252.8" width="145.90" height="90.40" fill="none" stroke="#8a8a8a" stroke-width="1.1"/>
<path d="M388.90 252.80H391.5" stroke="#555" stroke-width="0.9"/>
<text x="388.10" y="254.75" font-size="5.8" text-anchor="end">35</text>
<path d="M388.90 270.88H391.5" stroke="#555" stroke-width="0.9"/>
<text x="388.10" y="272.83" font-size="5.8" text-anchor="end">30</text>
<path d="M388.90 288.96H391.5" stroke="#555" stroke-width="0.9"/>
<text x="388.10" y="290.91" font-size="5.8" text-anchor="end">25</text>
<path d="M388.90 307.04H391.5" stroke="#555" stroke-width="0.9"/>
<text x="388.10" y="308.99" font-size="5.8" text-anchor="end">20</text>
<path d="M388.90 325.12H391.5" stroke="#555" stroke-width="0.9"/>
<text x="388.10" y="327.07" font-size="5.8" text-anchor="end">15</text>
<path d="M388.90 343.20H391.5" stroke="#555" stroke-width="0.9"/>
<text x="388.10" y="345.15" font-size="5.8" text-anchor="end">10</text>
<path d="M400.62 343.2V345.50" stroke="#666" stroke-width="0.85"/>
<text x="400.62" y="350.50" font-size="5.8" text-anchor="middle">MLP</text>
<path d="M418.86 343.2V345.50" stroke="#666" stroke-width="0.85"/>
<text x="418.86" y="350.50" font-size="5.8" text-anchor="middle">CatBoost</text>
<path d="M437.09 343.2V345.50" stroke="#666" stroke-width="0.85"/>
<text x="437.09" y="350.50" font-size="5.8" text-anchor="middle">ERT</text>
<path d="M455.33 343.2V345.50" stroke="#666" stroke-width="0.85"/>
<text x="455.33" y="350.50" font-size="5.8" text-anchor="middle">GBRT</text>
<path d="M473.57 343.2V345.50" stroke="#666" stroke-width="0.85"/>
<text x="473.57" y="350.50" font-size="5.8" text-anchor="middle">MARS</text>
<path d="M491.81 343.2V345.50" stroke="#666" stroke-width="0.85"/>
<text x="491.81" y="350.50" font-size="5.8" text-anchor="middle">RF</text>
<path d="M510.04 343.2V345.50" stroke="#666" stroke-width="0.85"/>
<text x="510.04" y="350.50" font-size="5.8" text-anchor="middle">SGB</text>
<path d="M528.28 343.2V345.50" stroke="#666" stroke-width="0.85"/>
<text x="528.28" y="350.50" font-size="5.8" text-anchor="middle">SVR</text>
<text transform="translate(464.45 251.70) scale(1 0.96)" font-size="7.5" style="stroke-width:0.38px;fill:#1c1c1c;stroke:#1c1c1c" text-anchor="middle">DBF</text>
<text transform="translate(379.80 298.00) rotate(-90)" font-size="5.8" text-anchor="middle">Relative RMSE (%)</text>
<path d="M36.92 428.70V435.70M36.92 442.40V448.80" stroke="#747474" stroke-width="1.0" fill="none"/><path d="M34.73 428.70H39.11M34.73 448.80H39.11" stroke="#5c5c5c" stroke-width="1.1" fill="none"/><rect x="33.27" y="435.70" width="7.30" height="6.70" fill="#84d0c0" stroke="#3f6f68" stroke-width="0.8"/><path d="M33.27 438.80H40.57" stroke="#335e57" stroke-width="1.0"/><path d="M45.14 419.20V431.40M45.14 439.40V446.40" stroke="#747474" stroke-width="1.0" fill="none"/><path d="M42.95 419.20H47.33M42.95 446.40H47.33" stroke="#5c5c5c" stroke-width="1.1" fill="none"/><rect x="41.49" y="431.40" width="7.30" height="8.00" fill="#fcfaaa" stroke="#7e7e52" stroke-width="0.8"/><path d="M41.49 435.30H48.79" stroke="#737346" stroke-width="1.0"/><path d="M55.18 433.40V440.40M55.18 446.20V452.50" stroke="#747474" stroke-width="1.0" fill="none"/><path d="M52.99 433.40H57.38M52.99 452.50H57.38" stroke="#5c5c5c" stroke-width="1.1" fill="none"/><rect x="51.53" y="440.40" width="7.30" height="5.80" fill="#84d0c0" stroke="#3f6f68" stroke-width="0.8"/><path d="M51.53 443.10H58.84" stroke="#335e57" stroke-width="1.0"/><path d="M63.40 431.40V438.30M63.40 443.10V450.10" stroke="#747474" stroke-width="1.0" fill="none"/><path d="M61.21 431.40H65.59M61.21 450.10H65.59" stroke="#5c5c5c" stroke-width="1.1" fill="none"/><rect x="59.75" y="438.30" width="7.30" height="4.80" fill="#fcfaaa" stroke="#7e7e52" stroke-width="0.8"/><path d="M59.75 441.00H67.06" stroke="#737346" stroke-width="1.0"/><path d="M73.45 433.20V439.70M73.45 446.00V453.60" stroke="#747474" stroke-width="1.0" fill="none"/><path d="M71.26 433.20H75.64M71.26 453.60H75.64" stroke="#5c5c5c" stroke-width="1.1" fill="none"/><rect x="69.79" y="439.70" width="7.30" height="6.30" fill="#84d0c0" stroke="#3f6f68" stroke-width="0.8"/><path d="M69.79 443.10H77.10" stroke="#335e57" stroke-width="1.0"/><path d="M81.67 427.60V436.30M81.67 444.40V452.70" stroke="#747474" stroke-width="1.0" fill="none"/><path d="M79.47 427.60H83.86M79.47 452.70H83.86" stroke="#5c5c5c" stroke-width="1.1" fill="none"/><rect x="78.01" y="436.30" width="7.30" height="8.10" fill="#fcfaaa" stroke="#7e7e52" stroke-width="0.8"/><path d="M78.01 441.00H85.32" stroke="#737346" stroke-width="1.0"/><path d="M91.71 432.30V439.70M91.71 445.70V453.60" stroke="#747474" stroke-width="1.0" fill="none"/><path d="M89.52 432.30H93.90M89.52 453.60H93.90" stroke="#5c5c5c" stroke-width="1.1" fill="none"/><rect x="88.06" y="439.70" width="7.30" height="6.00" fill="#84d0c0" stroke="#3f6f68" stroke-width="0.8"/><path d="M88.06 443.30H95.36" stroke="#335e57" stroke-width="1.0"/><path d="M99.93 428.50V435.40M99.93 442.10V451.50" stroke="#747474" stroke-width="1.0" fill="none"/><path d="M97.74 428.50H102.12M97.74 451.50H102.12" stroke="#5c5c5c" stroke-width="1.1" fill="none"/><rect x="96.28" y="435.40" width="7.30" height="6.70" fill="#fcfaaa" stroke="#7e7e52" stroke-width="0.8"/><path d="M96.28 439.00H103.58" stroke="#737346" stroke-width="1.0"/><path d="M109.97 410.80V427.30M109.97 441.40V449.40" stroke="#747474" stroke-width="1.0" fill="none"/><path d="M107.78 410.80H112.16M107.78 449.40H112.16" stroke="#5c5c5c" stroke-width="1.1" fill="none"/><rect x="106.32" y="427.30" width="7.30" height="14.10" fill="#84d0c0" stroke="#3f6f68" stroke-width="0.8"/><path d="M106.32 434.30H113.62" stroke="#335e57" stroke-width="1.0"/><path d="M118.19 415.50V423.80M118.19 431.60V438.60" stroke="#747474" stroke-width="1.0" fill="none"/><path d="M116.00 415.50H120.38M116.00 438.60H120.38" stroke="#5c5c5c" stroke-width="1.1" fill="none"/><rect x="114.54" y="423.80" width="7.30" height="7.80" fill="#fcfaaa" stroke="#7e7e52" stroke-width="0.8"/><path d="M114.54 428.30H121.84" stroke="#737346" stroke-width="1.0"/><path d="M128.23 432.30V440.00M128.23 446.40V453.40" stroke="#747474" stroke-width="1.0" fill="none"/><path d="M126.04 432.30H130.43M126.04 453.40H130.43" stroke="#5c5c5c" stroke-width="1.1" fill="none"/><rect x="124.58" y="440.00" width="7.30" height="6.40" fill="#84d0c0" stroke="#3f6f68" stroke-width="0.8"/><path d="M124.58 443.30H131.89" stroke="#335e57" stroke-width="1.0"/><path d="M136.45 429.90V438.30M136.45 444.40V451.10" stroke="#747474" stroke-width="1.0" fill="none"/><path d="M134.26 429.90H138.64M134.26 451.10H138.64" stroke="#5c5c5c" stroke-width="1.1" fill="none"/><rect x="132.80" y="438.30" width="7.30" height="6.10" fill="#fcfaaa" stroke="#7e7e52" stroke-width="0.8"/><path d="M132.80 442.40H140.11" stroke="#737346" stroke-width="1.0"/><path d="M146.50 433.60V441.30M146.50 445.50V452.10" stroke="#747474" stroke-width="1.0" fill="none"/><path d="M144.31 433.60H148.69M144.31 452.10H148.69" stroke="#5c5c5c" stroke-width="1.1" fill="none"/><rect x="142.84" y="441.30" width="7.30" height="4.20" fill="#84d0c0" stroke="#3f6f68" stroke-width="0.8"/><path d="M142.84 443.30H150.15" stroke="#335e57" stroke-width="1.0"/><path d="M154.72 425.30V435.40M154.72 443.10V454.50" stroke="#747474" stroke-width="1.0" fill="none"/><path d="M152.52 425.30H156.91M152.52 454.50H156.91" stroke="#5c5c5c" stroke-width="1.1" fill="none"/><rect x="151.06" y="435.40" width="7.30" height="7.70" fill="#fcfaaa" stroke="#7e7e52" stroke-width="0.8"/><path d="M151.06 440.10H158.37" stroke="#737346" stroke-width="1.0"/><path d="M164.76 429.20V437.00M164.76 443.10V450.70" stroke="#747474" stroke-width="1.0" fill="none"/><path d="M162.57 429.20H166.95M162.57 450.70H166.95" stroke="#5c5c5c" stroke-width="1.1" fill="none"/><rect x="161.11" y="437.00" width="7.30" height="6.10" fill="#84d0c0" stroke="#3f6f68" stroke-width="0.8"/><path d="M161.11 439.40H168.41" stroke="#335e57" stroke-width="1.0"/><path d="M172.98 427.60V436.30M172.98 442.70V451.40" stroke="#747474" stroke-width="1.0" fill="none"/><path d="M170.79 427.60H175.17M170.79 451.40H175.17" stroke="#5c5c5c" stroke-width="1.1" fill="none"/><rect x="169.33" y="436.30" width="7.30" height="6.40" fill="#fcfaaa" stroke="#7e7e52" stroke-width="0.8"/><path d="M169.33 440.40H176.63" stroke="#737346" stroke-width="1.0"/>
<rect x="31.9" y="368.8" width="146.10" height="90.50" fill="none" stroke="#8a8a8a" stroke-width="1.1"/>
<path d="M29.30 368.80H31.9" stroke="#555" stroke-width="0.9"/>
<text x="28.50" y="370.75" font-size="5.8" text-anchor="end">50</text>
<path d="M29.30 391.43H31.9" stroke="#555" stroke-width="0.9"/>
<text x="28.50" y="393.38" font-size="5.8" text-anchor="end">40</text>
<path d="M29.30 414.05H31.9" stroke="#555" stroke-width="0.9"/>
<text x="28.50" y="416.00" font-size="5.8" text-anchor="end">30</text>
<path d="M29.30 436.68H31.9" stroke="#555" stroke-width="0.9"/>
<text x="28.50" y="438.62" font-size="5.8" text-anchor="end">20</text>
<path d="M29.30 459.30H31.9" stroke="#555" stroke-width="0.9"/>
<text x="28.50" y="461.25" font-size="5.8" text-anchor="end">10</text>
<path d="M41.03 459.3V461.60" stroke="#666" stroke-width="0.85"/>
<text x="41.03" y="466.60" font-size="5.8" text-anchor="middle">MLP</text>
<path d="M59.29 459.3V461.60" stroke="#666" stroke-width="0.85"/>
<text x="59.29" y="466.60" font-size="5.8" text-anchor="middle">CatBoost</text>
<path d="M77.56 459.3V461.60" stroke="#666" stroke-width="0.85"/>
<text x="77.56" y="466.60" font-size="5.8" text-anchor="middle">ERT</text>
<path d="M95.82 459.3V461.60" stroke="#666" stroke-width="0.85"/>
<text x="95.82" y="466.60" font-size="5.8" text-anchor="middle">GBRT</text>
<path d="M114.08 459.3V461.60" stroke="#666" stroke-width="0.85"/>
<text x="114.08" y="466.60" font-size="5.8" text-anchor="middle">MARS</text>
<path d="M132.34 459.3V461.60" stroke="#666" stroke-width="0.85"/>
<text x="132.34" y="466.60" font-size="5.8" text-anchor="middle">RF</text>
<path d="M150.61 459.3V461.60" stroke="#666" stroke-width="0.85"/>
<text x="150.61" y="466.60" font-size="5.8" text-anchor="middle">SGB</text>
<path d="M168.87 459.3V461.60" stroke="#666" stroke-width="0.85"/>
<text x="168.87" y="466.60" font-size="5.8" text-anchor="middle">SVR</text>
<text transform="translate(104.95 367.70) scale(1 0.96)" font-size="7.5" style="stroke-width:0.38px;fill:#1c1c1c;stroke:#1c1c1c" text-anchor="middle">MF</text>
<text transform="translate(20.20 414.05) rotate(-90)" font-size="5.8" text-anchor="middle">Relative RMSE (%)</text>
<path d="M216.61 421.80V427.30M216.61 430.90V434.30" stroke="#747474" stroke-width="1.0" fill="none"/><path d="M214.42 421.80H218.80M214.42 434.30H218.80" stroke="#5c5c5c" stroke-width="1.1" fill="none"/><rect x="212.97" y="427.30" width="7.29" height="3.60" fill="#84d0c0" stroke="#3f6f68" stroke-width="0.8"/><path d="M212.97 428.90H220.26" stroke="#335e57" stroke-width="1.0"/><path d="M224.81 421.30V426.20M224.81 429.90V433.40" stroke="#747474" stroke-width="1.0" fill="none"/><path d="M222.63 421.30H227.00M222.63 433.40H227.00" stroke="#5c5c5c" stroke-width="1.1" fill="none"/><rect x="221.17" y="426.20" width="7.29" height="3.70" fill="#fcfaaa" stroke="#7e7e52" stroke-width="0.8"/><path d="M221.17 428.00H228.46" stroke="#737346" stroke-width="1.0"/><path d="M234.84 426.50V432.30M234.84 436.30V442.70" stroke="#747474" stroke-width="1.0" fill="none"/><path d="M232.65 426.50H237.02M232.65 442.70H237.02" stroke="#5c5c5c" stroke-width="1.1" fill="none"/><rect x="231.19" y="432.30" width="7.29" height="4.00" fill="#84d0c0" stroke="#3f6f68" stroke-width="0.8"/><path d="M231.19 434.30H238.48" stroke="#335e57" stroke-width="1.0"/><path d="M243.04 429.30V434.30M243.04 438.10V442.70" stroke="#747474" stroke-width="1.0" fill="none"/><path d="M240.85 429.30H245.23M240.85 442.70H245.23" stroke="#5c5c5c" stroke-width="1.1" fill="none"/><rect x="239.39" y="434.30" width="7.29" height="3.80" fill="#fcfaaa" stroke="#7e7e52" stroke-width="0.8"/><path d="M239.39 436.10H246.68" stroke="#737346" stroke-width="1.0"/><path d="M253.06 425.20V430.70M253.06 434.70V439.40" stroke="#747474" stroke-width="1.0" fill="none"/><path d="M250.87 425.20H255.25M250.87 439.40H255.25" stroke="#5c5c5c" stroke-width="1.1" fill="none"/><rect x="249.42" y="430.70" width="7.29" height="4.00" fill="#84d0c0" stroke="#3f6f68" stroke-width="0.8"/><path d="M249.42 432.30H256.71" stroke="#335e57" stroke-width="1.0"/><path d="M261.26 427.30V431.40M261.26 436.10V440.10" stroke="#747474" stroke-width="1.0" fill="none"/><path d="M259.08 427.30H263.45M259.08 440.10H263.45" stroke="#5c5c5c" stroke-width="1.1" fill="none"/><rect x="257.62" y="431.40" width="7.29" height="4.70" fill="#fcfaaa" stroke="#7e7e52" stroke-width="0.8"/><path d="M257.62 433.60H264.91" stroke="#737346" stroke-width="1.0"/><path d="M271.29 423.30V429.60M271.29 434.30V440.10" stroke="#747474" stroke-width="1.0" fill="none"/><path d="M269.10 423.30H273.47M269.10 440.10H273.47" stroke="#5c5c5c" stroke-width="1.1" fill="none"/><rect x="267.64" y="429.60" width="7.29" height="4.70" fill="#84d0c0" stroke="#3f6f68" stroke-width="0.8"/><path d="M267.64 431.90H274.93" stroke="#335e57" stroke-width="1.0"/><path d="M279.49 427.20V433.20M279.49 437.70V441.00" stroke="#747474" stroke-width="1.0" fill="none"/><path d="M277.30 427.20H281.68M277.30 441.00H281.68" stroke="#5c5c5c" stroke-width="1.1" fill="none"/><rect x="275.84" y="433.20" width="7.29" height="4.50" fill="#fcfaaa" stroke="#7e7e52" stroke-width="0.8"/><path d="M275.84 435.30H283.13" stroke="#737346" stroke-width="1.0"/><path d="M289.51 407.70V419.20M289.51 426.50V433.20" stroke="#747474" stroke-width="1.0" fill="none"/><path d="M287.32 407.70H291.70M287.32 433.20H291.70" stroke="#5c5c5c" stroke-width="1.1" fill="none"/><rect x="285.87" y="419.20" width="7.29" height="7.30" fill="#84d0c0" stroke="#3f6f68" stroke-width="0.8"/><path d="M285.87 422.90H293.16" stroke="#335e57" stroke-width="1.0"/><path d="M297.71 417.50V421.50M297.71 427.30V431.40" stroke="#747474" stroke-width="1.0" fill="none"/><path d="M295.53 417.50H299.90M295.53 431.40H299.90" stroke="#5c5c5c" stroke-width="1.1" fill="none"/><rect x="294.07" y="421.50" width="7.29" height="5.80" fill="#fcfaaa" stroke="#7e7e52" stroke-width="0.8"/><path d="M294.07 424.20H301.36" stroke="#737346" stroke-width="1.0"/><path d="M307.74 426.60V431.40M307.74 435.70V440.10" stroke="#747474" stroke-width="1.0" fill="none"/><path d="M305.55 426.60H309.92M305.55 440.10H309.92" stroke="#5c5c5c" stroke-width="1.1" fill="none"/><rect x="304.09" y="431.40" width="7.29" height="4.30" fill="#84d0c0" stroke="#3f6f68" stroke-width="0.8"/><path d="M304.09 433.40H311.38" stroke="#335e57" stroke-width="1.0"/><path d="M315.94 426.60V432.60M315.94 437.30V440.10" stroke="#747474" stroke-width="1.0" fill="none"/><path d="M313.75 426.60H318.13M313.75 440.10H318.13" stroke="#5c5c5c" stroke-width="1.1" fill="none"/><rect x="312.29" y="432.60" width="7.29" height="4.70" fill="#fcfaaa" stroke="#7e7e52" stroke-width="0.8"/><path d="M312.29 434.70H319.58" stroke="#737346" stroke-width="1.0"/><path d="M325.96 424.90V431.40M325.96 436.10V441.30" stroke="#747474" stroke-width="1.0" fill="none"/><path d="M323.77 424.90H328.15M323.77 441.30H328.15" stroke="#5c5c5c" stroke-width="1.1" fill="none"/><rect x="322.32" y="431.40" width="7.29" height="4.70" fill="#84d0c0" stroke="#3f6f68" stroke-width="0.8"/><path d="M322.32 433.60H329.61" stroke="#335e57" stroke-width="1.0"/><path d="M334.16 428.30V433.90M334.16 438.60V442.70" stroke="#747474" stroke-width="1.0" fill="none"/><path d="M331.98 428.30H336.35M331.98 442.70H336.35" stroke="#5c5c5c" stroke-width="1.1" fill="none"/><rect x="330.52" y="433.90" width="7.29" height="4.70" fill="#fcfaaa" stroke="#7e7e52" stroke-width="0.8"/><path d="M330.52 435.90H337.81" stroke="#737346" stroke-width="1.0"/><path d="M344.19 421.30V427.30M344.19 431.40V435.40" stroke="#747474" stroke-width="1.0" fill="none"/><path d="M342.00 421.30H346.37M342.00 435.40H346.37" stroke="#5c5c5c" stroke-width="1.1" fill="none"/><rect x="340.54" y="427.30" width="7.29" height="4.10" fill="#84d0c0" stroke="#3f6f68" stroke-width="0.8"/><path d="M340.54 428.90H347.83" stroke="#335e57" stroke-width="1.0"/><path d="M352.39 422.90V427.90M352.39 431.60V435.70" stroke="#747474" stroke-width="1.0" fill="none"/><path d="M350.20 422.90H354.58M350.20 435.70H354.58" stroke="#5c5c5c" stroke-width="1.1" fill="none"/><rect x="348.74" y="427.90" width="7.29" height="3.70" fill="#fcfaaa" stroke="#7e7e52" stroke-width="0.8"/><path d="M348.74 429.60H356.03" stroke="#737346" stroke-width="1.0"/>
<rect x="211.6" y="368.8" width="145.80" height="90.40" fill="none" stroke="#8a8a8a" stroke-width="1.1"/>
<path d="M209.00 368.80H211.6" stroke="#555" stroke-width="0.9"/>
<text x="208.20" y="370.75" font-size="5.8" text-anchor="end">50</text>
<path d="M209.00 391.40H211.6" stroke="#555" stroke-width="0.9"/>
<text x="208.20" y="393.35" font-size="5.8" text-anchor="end">40</text>
<path d="M209.00 414.00H211.6" stroke="#555" stroke-width="0.9"/>
<text x="208.20" y="415.95" font-size="5.8" text-anchor="end">30</text>
<path d="M209.00 436.60H211.6" stroke="#555" stroke-width="0.9"/>
<text x="208.20" y="438.55" font-size="5.8" text-anchor="end">20</text>
<path d="M209.00 459.20H211.6" stroke="#555" stroke-width="0.9"/>
<text x="208.20" y="461.15" font-size="5.8" text-anchor="end">10</text>
<path d="M220.71 459.2V461.50" stroke="#666" stroke-width="0.85"/>
<text x="220.71" y="466.50" font-size="5.8" text-anchor="middle">MLP</text>
<path d="M238.94 459.2V461.50" stroke="#666" stroke-width="0.85"/>
<text x="238.94" y="466.50" font-size="5.8" text-anchor="middle">CatBoost</text>
<path d="M257.16 459.2V461.50" stroke="#666" stroke-width="0.85"/>
<text x="257.16" y="466.50" font-size="5.8" text-anchor="middle">ERT</text>
<path d="M275.39 459.2V461.50" stroke="#666" stroke-width="0.85"/>
<text x="275.39" y="466.50" font-size="5.8" text-anchor="middle">GBRT</text>
<path d="M293.61 459.2V461.50" stroke="#666" stroke-width="0.85"/>
<text x="293.61" y="466.50" font-size="5.8" text-anchor="middle">MARS</text>
<path d="M311.84 459.2V461.50" stroke="#666" stroke-width="0.85"/>
<text x="311.84" y="466.50" font-size="5.8" text-anchor="middle">RF</text>
<path d="M330.06 459.2V461.50" stroke="#666" stroke-width="0.85"/>
<text x="330.06" y="466.50" font-size="5.8" text-anchor="middle">SGB</text>
<path d="M348.29 459.2V461.50" stroke="#666" stroke-width="0.85"/>
<text x="348.29" y="466.50" font-size="5.8" text-anchor="middle">SVR</text>
<text transform="translate(284.50 367.70) scale(1 0.96)" font-size="7.5" style="stroke-width:0.38px;fill:#1c1c1c;stroke:#1c1c1c" text-anchor="middle">WSA</text>
<text transform="translate(199.90 414.00) rotate(-90)" font-size="5.8" text-anchor="middle">Relative RMSE (%)</text>
<path d="M395.92 403.40V414.30M395.92 428.40V433.50" stroke="#747474" stroke-width="1.0" fill="none"/><path d="M393.73 403.40H398.11M393.73 433.50H398.11" stroke="#5c5c5c" stroke-width="1.1" fill="none"/><rect x="392.27" y="414.30" width="7.30" height="14.10" fill="#84d0c0" stroke="#3f6f68" stroke-width="0.8"/><path d="M392.27 424.40H399.57" stroke="#335e57" stroke-width="1.0"/><path d="M404.13 404.50V417.20M404.13 433.50V438.50" stroke="#747474" stroke-width="1.0" fill="none"/><path d="M401.94 404.50H406.32M401.94 438.50H406.32" stroke="#5c5c5c" stroke-width="1.1" fill="none"/><rect x="400.48" y="417.20" width="7.30" height="16.30" fill="#fcfaaa" stroke="#7e7e52" stroke-width="0.8"/><path d="M400.48 426.50H407.78" stroke="#737346" stroke-width="1.0"/><path d="M414.17 409.30V422.60M414.17 438.50V442.30" stroke="#747474" stroke-width="1.0" fill="none"/><path d="M411.98 409.30H416.36M411.98 442.30H416.36" stroke="#5c5c5c" stroke-width="1.1" fill="none"/><rect x="410.52" y="422.60" width="7.30" height="15.90" fill="#84d0c0" stroke="#3f6f68" stroke-width="0.8"/><path d="M410.52 433.50H417.82" stroke="#335e57" stroke-width="1.0"/><path d="M422.38 413.40V425.60M422.38 440.30V443.70" stroke="#747474" stroke-width="1.0" fill="none"/><path d="M420.19 413.40H424.57M420.19 443.70H424.57" stroke="#5c5c5c" stroke-width="1.1" fill="none"/><rect x="418.73" y="425.60" width="7.30" height="14.70" fill="#fcfaaa" stroke="#7e7e52" stroke-width="0.8"/><path d="M418.73 436.20H426.03" stroke="#737346" stroke-width="1.0"/><path d="M432.42 411.30V422.90M432.42 437.60V441.00" stroke="#747474" stroke-width="1.0" fill="none"/><path d="M430.23 411.30H434.61M430.23 441.00H434.61" stroke="#5c5c5c" stroke-width="1.1" fill="none"/><rect x="428.77" y="422.90" width="7.30" height="14.70" fill="#84d0c0" stroke="#3f6f68" stroke-width="0.8"/><path d="M428.77 432.40H436.07" stroke="#335e57" stroke-width="1.0"/><path d="M440.63 413.10V425.60M440.63 439.60V443.70" stroke="#747474" stroke-width="1.0" fill="none"/><path d="M438.44 413.10H442.82M438.44 443.70H442.82" stroke="#5c5c5c" stroke-width="1.1" fill="none"/><rect x="436.98" y="425.60" width="7.30" height="14.00" fill="#fcfaaa" stroke="#7e7e52" stroke-width="0.8"/><path d="M436.98 434.40H444.28" stroke="#737346" stroke-width="1.0"/><path d="M450.67 410.40V419.20M450.67 435.40V441.50" stroke="#747474" stroke-width="1.0" fill="none"/><path d="M448.48 410.40H452.86M448.48 441.50H452.86" stroke="#5c5c5c" stroke-width="1.1" fill="none"/><rect x="447.02" y="419.20" width="7.30" height="16.20" fill="#84d0c0" stroke="#3f6f68" stroke-width="0.8"/><path d="M447.02 430.10H454.32" stroke="#335e57" stroke-width="1.0"/><path d="M458.88 413.10V424.20M458.88 439.60V443.30" stroke="#747474" stroke-width="1.0" fill="none"/><path d="M456.69 413.10H461.07M456.69 443.30H461.07" stroke="#5c5c5c" stroke-width="1.1" fill="none"/><rect x="455.23" y="424.20" width="7.30" height="15.40" fill="#fcfaaa" stroke="#7e7e52" stroke-width="0.8"/><path d="M455.23 432.10H462.53" stroke="#737346" stroke-width="1.0"/><path d="M468.92 399.80V410.90M468.92 426.50V439.20" stroke="#747474" stroke-width="1.0" fill="none"/><path d="M466.73 399.80H471.11M466.73 439.20H471.11" stroke="#5c5c5c" stroke-width="1.1" fill="none"/><rect x="465.27" y="410.90" width="7.30" height="15.60" fill="#84d0c0" stroke="#3f6f68" stroke-width="0.8"/><path d="M465.27 417.80H472.57" stroke="#335e57" stroke-width="1.0"/><path d="M477.13 397.40V413.60M477.13 428.50V435.10" stroke="#747474" stroke-width="1.0" fill="none"/><path d="M474.94 397.40H479.32M474.94 435.10H479.32" stroke="#5c5c5c" stroke-width="1.1" fill="none"/><rect x="473.48" y="413.60" width="7.30" height="14.90" fill="#fcfaaa" stroke="#7e7e52" stroke-width="0.8"/><path d="M473.48 423.60H480.78" stroke="#737346" stroke-width="1.0"/><path d="M487.17 410.40V421.50M487.17 435.50V441.20" stroke="#747474" stroke-width="1.0" fill="none"/><path d="M484.98 410.40H489.36M484.98 441.20H489.36" stroke="#5c5c5c" stroke-width="1.1" fill="none"/><rect x="483.52" y="421.50" width="7.30" height="14.00" fill="#84d0c0" stroke="#3f6f68" stroke-width="0.8"/><path d="M483.52 431.70H490.82" stroke="#335e57" stroke-width="1.0"/><path d="M495.38 412.70V425.60M495.38 439.20V443.50" stroke="#747474" stroke-width="1.0" fill="none"/><path d="M493.19 412.70H497.57M493.19 443.50H497.57" stroke="#5c5c5c" stroke-width="1.1" fill="none"/><rect x="491.73" y="425.60" width="7.30" height="13.60" fill="#fcfaaa" stroke="#7e7e52" stroke-width="0.8"/><path d="M491.73 434.40H499.03" stroke="#737346" stroke-width="1.0"/><path d="M505.42 403.40V418.50M505.42 431.40V441.20" stroke="#747474" stroke-width="1.0" fill="none"/><path d="M503.23 403.40H507.61M503.23 441.20H507.61" stroke="#5c5c5c" stroke-width="1.1" fill="none"/><rect x="501.77" y="418.50" width="7.30" height="12.90" fill="#84d0c0" stroke="#3f6f68" stroke-width="0.8"/><path d="M501.77 427.40H509.07" stroke="#335e57" stroke-width="1.0"/><path d="M513.63 415.10V425.60M513.63 440.30V444.20" stroke="#747474" stroke-width="1.0" fill="none"/><path d="M511.44 415.10H515.82M511.44 444.20H515.82" stroke="#5c5c5c" stroke-width="1.1" fill="none"/><rect x="509.98" y="425.60" width="7.30" height="14.70" fill="#fcfaaa" stroke="#7e7e52" stroke-width="0.8"/><path d="M509.98 434.80H517.28" stroke="#737346" stroke-width="1.0"/><path d="M523.67 406.30V418.50M523.67 434.00V439.20" stroke="#747474" stroke-width="1.0" fill="none"/><path d="M521.48 406.30H525.86M521.48 439.20H525.86" stroke="#5c5c5c" stroke-width="1.1" fill="none"/><rect x="520.02" y="418.50" width="7.30" height="15.50" fill="#84d0c0" stroke="#3f6f68" stroke-width="0.8"/><path d="M520.02 429.40H527.32" stroke="#335e57" stroke-width="1.0"/><path d="M531.88 410.40V421.80M531.88 435.40V439.20" stroke="#747474" stroke-width="1.0" fill="none"/><path d="M529.69 410.40H534.07M529.69 439.20H534.07" stroke="#5c5c5c" stroke-width="1.1" fill="none"/><rect x="528.23" y="421.80" width="7.30" height="13.60" fill="#fcfaaa" stroke="#7e7e52" stroke-width="0.8"/><path d="M528.23 430.60H535.53" stroke="#737346" stroke-width="1.0"/>
<rect x="390.9" y="368.8" width="146.00" height="90.30" fill="none" stroke="#8a8a8a" stroke-width="1.1"/>
<path d="M388.30 368.80H390.9" stroke="#555" stroke-width="0.9"/>
<text x="387.50" y="370.75" font-size="5.8" text-anchor="end">60</text>
<path d="M388.30 386.86H390.9" stroke="#555" stroke-width="0.9"/>
<text x="387.50" y="388.81" font-size="5.8" text-anchor="end">50</text>
<path d="M388.30 404.92H390.9" stroke="#555" stroke-width="0.9"/>
<text x="387.50" y="406.87" font-size="5.8" text-anchor="end">40</text>
<path d="M388.30 422.98H390.9" stroke="#555" stroke-width="0.9"/>
<text x="387.50" y="424.93" font-size="5.8" text-anchor="end">30</text>
<path d="M388.30 441.04H390.9" stroke="#555" stroke-width="0.9"/>
<text x="387.50" y="442.99" font-size="5.8" text-anchor="end">20</text>
<path d="M388.30 459.10H390.9" stroke="#555" stroke-width="0.9"/>
<text x="387.50" y="461.05" font-size="5.8" text-anchor="end">10</text>
<path d="M400.02 459.1V461.40" stroke="#666" stroke-width="0.85"/>
<text x="400.02" y="466.40" font-size="5.8" text-anchor="middle">MLP</text>
<path d="M418.27 459.1V461.40" stroke="#666" stroke-width="0.85"/>
<text x="418.27" y="466.40" font-size="5.8" text-anchor="middle">CatBoost</text>
<path d="M436.52 459.1V461.40" stroke="#666" stroke-width="0.85"/>
<text x="436.52" y="466.40" font-size="5.8" text-anchor="middle">ERT</text>
<path d="M454.77 459.1V461.40" stroke="#666" stroke-width="0.85"/>
<text x="454.77" y="466.40" font-size="5.8" text-anchor="middle">GBRT</text>
<path d="M473.02 459.1V461.40" stroke="#666" stroke-width="0.85"/>
<text x="473.02" y="466.40" font-size="5.8" text-anchor="middle">MARS</text>
<path d="M491.27 459.1V461.40" stroke="#666" stroke-width="0.85"/>
<text x="491.27" y="466.40" font-size="5.8" text-anchor="middle">RF</text>
<path d="M509.52 459.1V461.40" stroke="#666" stroke-width="0.85"/>
<text x="509.52" y="466.40" font-size="5.8" text-anchor="middle">SGB</text>
<path d="M527.77 459.1V461.40" stroke="#666" stroke-width="0.85"/>
<text x="527.77" y="466.40" font-size="5.8" text-anchor="middle">SVR</text>
<text transform="translate(463.90 367.70) scale(1 0.96)" font-size="7.5" style="stroke-width:0.38px;fill:#1c1c1c;stroke:#1c1c1c" text-anchor="middle">SAV</text>
<text transform="translate(379.20 413.95) rotate(-90)" font-size="5.8" text-anchor="middle">Relative RMSE (%)</text>
<rect x="33.6" y="23.6" width="94.6" height="17.6" rx="1.6" fill="#fff" fill-opacity="0.85" stroke="#dde1ea" stroke-width="0.8"/>
<rect x="37.6" y="25.2" width="13.9" height="4.5" rx="0.7" fill="#84d0c0" stroke="#6db3a5" stroke-width="0.45"/>
<rect x="37.6" y="34.5" width="13.9" height="4.6" rx="0.7" fill="#fcfaaa" stroke="#d6d48c" stroke-width="0.45"/>
<text x="54.1" y="29.5" font-size="5.88">Separate modeling scenario</text>
<text x="54.1" y="39.0" font-size="5.88">Stratified sampling scenario</text>
</svg></body></html>
